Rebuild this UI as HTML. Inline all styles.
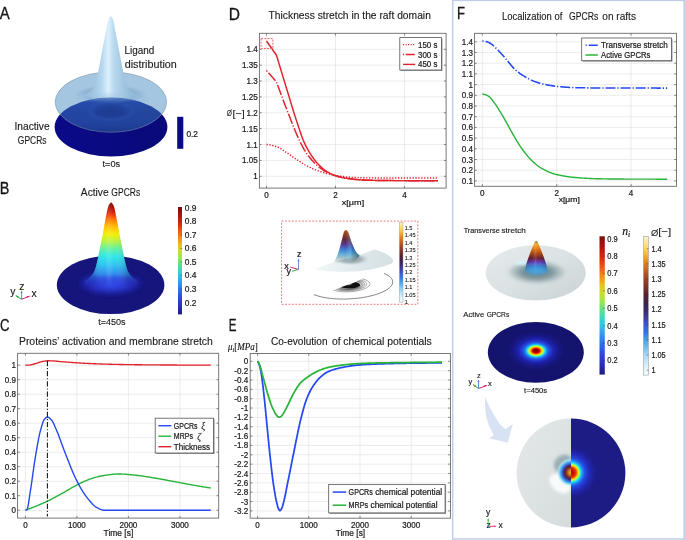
<!DOCTYPE html>
<html lang="en"><head><meta charset="utf-8"><title>Figure</title>
<style>html,body{margin:0;padding:0;background:#fff}body{width:685px;height:540px;overflow:hidden}svg{display:block}text{font-family:"Liberation Sans", "DejaVu Sans", sans-serif;fill:#1a1a1a}text.s{font-family:"Liberation Serif", "DejaVu Serif", serif}</style></head>
<body>
<svg width="685" height="540" viewBox="0 0 685 540">
<defs>
<linearGradient id="gA1" x1="0" y1="0" x2="1" y2="0" ><stop offset="0.000" stop-color="#0a0a88"/><stop offset="1.000" stop-color="#0a0a7a"/></linearGradient>
<linearGradient id="gA5" x1="0" y1="98" x2="0" y2="132" gradientUnits="userSpaceOnUse" ><stop offset="0.000" stop-color="#2c5ccc" stop-opacity="0.35"/><stop offset="0.500" stop-color="#2c5ccc" stop-opacity="0.0"/><stop offset="1.000" stop-color="#06105a" stop-opacity="0.25"/></linearGradient>
<radialGradient id="gA2" cx="50%" cy="50%" r="50%" ><stop offset="0.000" stop-color="#04104c" stop-opacity="0.2"/><stop offset="0.500" stop-color="#04104c" stop-opacity="0.12"/><stop offset="0.800" stop-color="#3a6ad0" stop-opacity="0.14"/><stop offset="1.000" stop-color="#3a6ad0" stop-opacity="0"/></radialGradient>
<linearGradient id="gA3" x1="92" y1="0" x2="130" y2="0" gradientUnits="userSpaceOnUse" ><stop offset="0.000" stop-color="#9fc4e0"/><stop offset="0.250" stop-color="#b4d6ee"/><stop offset="0.430" stop-color="#dcf0fc"/><stop offset="0.580" stop-color="#b8d8ee"/><stop offset="0.800" stop-color="#a2c8e4"/><stop offset="1.000" stop-color="#94bbd9"/></linearGradient>
<filter id="bl1" x="-20%" y="-20%" width="140%" height="140%"><feGaussianBlur stdDeviation="1.6"/></filter>
<linearGradient id="mA" x1="0" y1="84" x2="0" y2="102" gradientUnits="userSpaceOnUse" ><stop offset="0.000" stop-color="#fff"/><stop offset="0.400" stop-color="#fff"/><stop offset="1.000" stop-color="#000"/></linearGradient>
<mask id="mkA" maskUnits="userSpaceOnUse" x="50" y="0" width="125" height="125"><rect x="50" y="0" width="125" height="125" fill="url(#mA)"/></mask>
<radialGradient id="gA6" cx="50%" cy="50%" r="50%" ><stop offset="0.000" stop-color="#4a80b4" stop-opacity="0.0"/><stop offset="0.450" stop-color="#4a80b4" stop-opacity="0.0"/><stop offset="0.700" stop-color="#4a80b4" stop-opacity="0.28"/><stop offset="1.000" stop-color="#4a80b4" stop-opacity="0"/></radialGradient>
<radialGradient id="gB1" cx="50%" cy="50%" r="50%" ><stop offset="0.000" stop-color="#3358f2"/><stop offset="0.400" stop-color="#2e40dc"/><stop offset="0.750" stop-color="#2328b4"/><stop offset="1.000" stop-color="#1b1b90"/></radialGradient>
<filter id="bl2" x="-30%" y="-50%" width="160%" height="200%"><feGaussianBlur stdDeviation="2.2"/></filter>
<linearGradient id="gB2" x1="0" y1="202.3" x2="0" y2="292" gradientUnits="userSpaceOnUse" ><stop offset="0.000" stop-color="#7a0000"/><stop offset="0.036" stop-color="#920000"/><stop offset="0.114" stop-color="#e41c00"/><stop offset="0.197" stop-color="#ff7a00"/><stop offset="0.275" stop-color="#ffc000"/><stop offset="0.356" stop-color="#f2f000"/><stop offset="0.437" stop-color="#b4f344"/><stop offset="0.518" stop-color="#62f0a2"/><stop offset="0.600" stop-color="#30e8e6"/><stop offset="0.703" stop-color="#2ec2f2"/><stop offset="0.786" stop-color="#2f92f0"/><stop offset="0.868" stop-color="#2f55e6"/><stop offset="0.951" stop-color="#272ac6"/><stop offset="1.000" stop-color="#1c1c98"/></linearGradient>
<linearGradient id="mB" x1="0" y1="268" x2="0" y2="287" gradientUnits="userSpaceOnUse" ><stop offset="0.000" stop-color="#fff"/><stop offset="0.350" stop-color="#fff"/><stop offset="1.000" stop-color="#000"/></linearGradient>
<mask id="mkB" maskUnits="userSpaceOnUse" x="60" y="195" width="110" height="110"><rect x="60" y="195" width="110" height="110" fill="url(#mB)"/></mask>
<linearGradient id="gB3" x1="94" y1="0" x2="128" y2="0" gradientUnits="userSpaceOnUse" ><stop offset="0.000" stop-color="#000" stop-opacity="0.14"/><stop offset="0.300" stop-color="#fff" stop-opacity="0.0"/><stop offset="0.440" stop-color="#fff" stop-opacity="0.13"/><stop offset="0.600" stop-color="#fff" stop-opacity="0.0"/><stop offset="1.000" stop-color="#000" stop-opacity="0.2"/></linearGradient>
<linearGradient id="gJet" x1="0" y1="1" x2="0" y2="0" ><stop offset="0.000" stop-color="#1c1c80"/><stop offset="0.050" stop-color="#2828a8"/><stop offset="0.110" stop-color="#3038d0"/><stop offset="0.169" stop-color="#3050e0"/><stop offset="0.229" stop-color="#3070e8"/><stop offset="0.289" stop-color="#3098f0"/><stop offset="0.349" stop-color="#30c0e8"/><stop offset="0.408" stop-color="#38d8c0"/><stop offset="0.468" stop-color="#60e088"/><stop offset="0.528" stop-color="#98e850"/><stop offset="0.588" stop-color="#c8e030"/><stop offset="0.647" stop-color="#e8c020"/><stop offset="0.707" stop-color="#f09018"/><stop offset="0.767" stop-color="#f06010"/><stop offset="0.837" stop-color="#dc2c10"/><stop offset="0.916" stop-color="#b01410"/><stop offset="1.000" stop-color="#7c0c0c"/></linearGradient>
<linearGradient id="gD1" x1="314" y1="0" x2="394" y2="0" gradientUnits="userSpaceOnUse" ><stop offset="0.000" stop-color="#f4f8f9"/><stop offset="0.450" stop-color="#e2ebee"/><stop offset="1.000" stop-color="#d3dfe3"/></linearGradient>
<radialGradient id="gD2" cx="50%" cy="50%" r="50%" ><stop offset="0.000" stop-color="#86969b" stop-opacity="1"/><stop offset="0.550" stop-color="#97a8ad" stop-opacity="0.8"/><stop offset="1.000" stop-color="#c8d4d8" stop-opacity="0"/></radialGradient>
<linearGradient id="gD3" x1="0" y1="230.1" x2="0" y2="263.5" gradientUnits="userSpaceOnUse" ><stop offset="0.000" stop-color="#b25618"/><stop offset="0.102" stop-color="#94401a"/><stop offset="0.284" stop-color="#62263a"/><stop offset="0.422" stop-color="#54348a"/><stop offset="0.554" stop-color="#3a6ec8"/><stop offset="0.674" stop-color="#4c9cda"/><stop offset="0.793" stop-color="#86b8cc"/><stop offset="0.910" stop-color="#9caeb3"/><stop offset="1.000" stop-color="#b0bcc0"/></linearGradient>
<linearGradient id="mD" x1="0" y1="250" x2="0" y2="264" gradientUnits="userSpaceOnUse" ><stop offset="0.000" stop-color="#fff"/><stop offset="0.500" stop-color="#fff"/><stop offset="1.000" stop-color="#000"/></linearGradient>
<mask id="mkD" maskUnits="userSpaceOnUse" x="320" y="225" width="60" height="45"><rect x="320" y="225" width="60" height="45" fill="url(#mD)"/></mask>
<linearGradient id="gD4" x1="336" y1="0" x2="360" y2="0" gradientUnits="userSpaceOnUse" ><stop offset="0.000" stop-color="#fff" stop-opacity="0.12"/><stop offset="0.400" stop-color="#fff" stop-opacity="0.0"/><stop offset="0.620" stop-color="#7ad0ff" stop-opacity="0.3"/><stop offset="0.740" stop-color="#000" stop-opacity="0.12"/><stop offset="1.000" stop-color="#000" stop-opacity="0.42"/></linearGradient>
<linearGradient id="gTh" x1="0" y1="1" x2="0" y2="0" ><stop offset="0.000" stop-color="#f2fdff"/><stop offset="0.030" stop-color="#e8faff"/><stop offset="0.089" stop-color="#c8ecff"/><stop offset="0.148" stop-color="#a0d8fc"/><stop offset="0.197" stop-color="#70c0f8"/><stop offset="0.256" stop-color="#40a0f0"/><stop offset="0.305" stop-color="#3078e8"/><stop offset="0.365" stop-color="#3858d0"/><stop offset="0.420" stop-color="#4038a0"/><stop offset="0.470" stop-color="#3c2870"/><stop offset="0.520" stop-color="#402048"/><stop offset="0.580" stop-color="#582030"/><stop offset="0.630" stop-color="#783028"/><stop offset="0.690" stop-color="#a04020"/><stop offset="0.740" stop-color="#c05818"/><stop offset="0.810" stop-color="#e88020"/><stop offset="0.858" stop-color="#f8a830"/><stop offset="0.917" stop-color="#ffd860"/><stop offset="0.985" stop-color="#fff0b0"/><stop offset="1.000" stop-color="#fff6c8"/></linearGradient>
<linearGradient id="gF1" x1="0" y1="0" x2="1" y2="1" ><stop offset="0.000" stop-color="#e6ebec"/><stop offset="0.500" stop-color="#dbe2e3"/><stop offset="1.000" stop-color="#c9d1d3"/></linearGradient>
<filter id="bl3" x="-30%" y="-50%" width="160%" height="200%"><feGaussianBlur stdDeviation="1.8"/></filter>
<filter id="bl4" x="-30%" y="-50%" width="160%" height="200%"><feGaussianBlur stdDeviation="1.3"/></filter>
<radialGradient id="gF2" cx="50%" cy="50%" r="50%" ><stop offset="0.000" stop-color="#6a838a" stop-opacity="1"/><stop offset="0.500" stop-color="#7a9399" stop-opacity="0.95"/><stop offset="0.800" stop-color="#9db0b5" stop-opacity="0.55"/><stop offset="1.000" stop-color="#b9c6c9" stop-opacity="0"/></radialGradient>
<linearGradient id="gF3" x1="0" y1="240.9" x2="0" y2="274.2" gradientUnits="userSpaceOnUse" ><stop offset="0.000" stop-color="#6a5a30"/><stop offset="0.018" stop-color="#8a7434"/><stop offset="0.093" stop-color="#f0b030"/><stop offset="0.198" stop-color="#f08818"/><stop offset="0.306" stop-color="#d06010"/><stop offset="0.414" stop-color="#a04018"/><stop offset="0.520" stop-color="#702030"/><stop offset="0.613" stop-color="#6a36a0"/><stop offset="0.679" stop-color="#5050d0"/><stop offset="0.760" stop-color="#3078e0"/><stop offset="0.841" stop-color="#389ee6"/><stop offset="0.919" stop-color="#50a8d8"/><stop offset="1.000" stop-color="#789aa0"/></linearGradient>
<linearGradient id="mF" x1="0" y1="258" x2="0" y2="275" gradientUnits="userSpaceOnUse" ><stop offset="0.000" stop-color="#fff"/><stop offset="0.250" stop-color="#fff"/><stop offset="1.000" stop-color="#000"/></linearGradient>
<mask id="mkF" maskUnits="userSpaceOnUse" x="510" y="235" width="55" height="50"><rect x="510" y="235" width="55" height="50" fill="url(#mF)"/></mask>
<linearGradient id="gF4" x1="525" y1="0" x2="548" y2="0" gradientUnits="userSpaceOnUse" ><stop offset="0.000" stop-color="#000" stop-opacity="0.3"/><stop offset="0.300" stop-color="#000" stop-opacity="0.05"/><stop offset="0.450" stop-color="#fff" stop-opacity="0.12"/><stop offset="0.650" stop-color="#000" stop-opacity="0.0"/><stop offset="1.000" stop-color="#000" stop-opacity="0.3"/></linearGradient>
<radialGradient id="gF5" cx="50%" cy="50%" r="50%" ><stop offset="0.000" stop-color="#7f0000"/><stop offset="0.080" stop-color="#a00000"/><stop offset="0.135" stop-color="#ee1c00"/><stop offset="0.180" stop-color="#ff9a00"/><stop offset="0.220" stop-color="#f4f000"/><stop offset="0.260" stop-color="#86f67a"/><stop offset="0.300" stop-color="#22e6ea"/><stop offset="0.360" stop-color="#1f8cf4"/><stop offset="0.450" stop-color="#2348e0"/><stop offset="0.600" stop-color="#1e22ac"/><stop offset="0.800" stop-color="#171782"/><stop offset="1.000" stop-color="#14146e"/></radialGradient>
<linearGradient id="gJet2" x1="0" y1="1" x2="0" y2="0" ><stop offset="0.000" stop-color="#1c1c80"/><stop offset="0.050" stop-color="#2828a8"/><stop offset="0.110" stop-color="#3038d0"/><stop offset="0.169" stop-color="#3050e0"/><stop offset="0.229" stop-color="#3070e8"/><stop offset="0.289" stop-color="#3098f0"/><stop offset="0.349" stop-color="#30c0e8"/><stop offset="0.408" stop-color="#38d8c0"/><stop offset="0.468" stop-color="#60e088"/><stop offset="0.528" stop-color="#98e850"/><stop offset="0.588" stop-color="#c8e030"/><stop offset="0.647" stop-color="#e8c020"/><stop offset="0.707" stop-color="#f09018"/><stop offset="0.767" stop-color="#f06010"/><stop offset="0.837" stop-color="#dc2c10"/><stop offset="0.916" stop-color="#b01410"/><stop offset="1.000" stop-color="#7c0c0c"/></linearGradient>
<linearGradient id="gF6" x1="0" y1="0" x2="1" y2="1" ><stop offset="0.000" stop-color="#e4e8e9"/><stop offset="1.000" stop-color="#d6dcdd"/></linearGradient>
<radialGradient id="gF7" cx="50%" cy="50%" r="50%" ><stop offset="0.000" stop-color="#f4a838"/><stop offset="0.160" stop-color="#e08028"/><stop offset="0.280" stop-color="#a04820"/><stop offset="0.400" stop-color="#5e2234"/><stop offset="0.500" stop-color="#4a2a78"/><stop offset="0.600" stop-color="#3a60d0"/><stop offset="0.720" stop-color="#48a8ec"/><stop offset="0.850" stop-color="#a0e0f8" stop-opacity="0.8"/><stop offset="1.000" stop-color="#d8f6ff" stop-opacity="0"/></radialGradient>
<radialGradient id="gF8" cx="50%" cy="50%" r="50%" ><stop offset="0.000" stop-color="#a00000"/><stop offset="0.100" stop-color="#d01000"/><stop offset="0.180" stop-color="#f03000"/><stop offset="0.235" stop-color="#ff9a00"/><stop offset="0.270" stop-color="#f4f000"/><stop offset="0.310" stop-color="#86f67a"/><stop offset="0.350" stop-color="#22e6ea"/><stop offset="0.420" stop-color="#1f8cf4"/><stop offset="0.520" stop-color="#2348e0"/><stop offset="0.680" stop-color="#2228b4"/><stop offset="0.850" stop-color="#1e1e92"/><stop offset="1.000" stop-color="#1c1c84" stop-opacity="0"/></radialGradient>
</defs>
<rect width="685" height="540" fill="#fff"/>
<rect x="452.7" y="0.4" width="231.5" height="538.6" fill="none" stroke="#bfcde9" stroke-width="1.5"/>
<text x="-0.33" y="19.40" font-size="16.1" textLength="9.96" lengthAdjust="spacingAndGlyphs" fill="#000" stroke="#000" stroke-width="0.27">A</text>
<text x="-0.14" y="194.40" font-size="16.1" textLength="9.66" lengthAdjust="spacingAndGlyphs" fill="#000" stroke="#000" stroke-width="0.27">B</text>
<text x="0.03" y="331.00" font-size="16.1" textLength="9.52" lengthAdjust="spacingAndGlyphs" fill="#000" stroke="#000" stroke-width="0.27">C</text>
<text x="228.73" y="19.60" font-size="16.1" textLength="11.22" lengthAdjust="spacingAndGlyphs" fill="#000" stroke="#000" stroke-width="0.27">D</text>
<text x="228.85" y="331.40" font-size="16.1" textLength="7.75" lengthAdjust="spacingAndGlyphs" fill="#000" stroke="#000" stroke-width="0.27">E</text>
<text x="457.03" y="19.10" font-size="16.1" textLength="8.00" lengthAdjust="spacingAndGlyphs" fill="#000" stroke="#000" stroke-width="0.27">F</text>
<rect x="17.60" y="353.30" width="201.10" height="164.80" fill="#fff"/>
<path d="M25.40 353.30V518.10M76.90 353.30V518.10M128.40 353.30V518.10M179.90 353.30V518.10M17.60 510.20H218.70M17.60 495.70H218.70M17.60 481.20H218.70M17.60 466.70H218.70M17.60 452.20H218.70M17.60 437.70H218.70M17.60 423.20H218.70M17.60 408.70H218.70M17.60 394.20H218.70M17.60 379.70H218.70M17.60 365.20H218.70" stroke="#e4e4e4" stroke-width="0.7" fill="none"/>
<path d="M25.40 518.10v-2.2M25.40 353.30v2.2M76.90 518.10v-2.2M76.90 353.30v2.2M128.40 518.10v-2.2M128.40 353.30v2.2M179.90 518.10v-2.2M179.90 353.30v2.2M17.60 510.20h2.2M218.70 510.20h-2.2M17.60 495.70h2.2M218.70 495.70h-2.2M17.60 481.20h2.2M218.70 481.20h-2.2M17.60 466.70h2.2M218.70 466.70h-2.2M17.60 452.20h2.2M218.70 452.20h-2.2M17.60 437.70h2.2M218.70 437.70h-2.2M17.60 423.20h2.2M218.70 423.20h-2.2M17.60 408.70h2.2M218.70 408.70h-2.2M17.60 394.20h2.2M218.70 394.20h-2.2M17.60 379.70h2.2M218.70 379.70h-2.2M17.60 365.20h2.2M218.70 365.20h-2.2" stroke="#555" stroke-width="0.7" fill="none"/>
<rect x="17.60" y="353.30" width="201.10" height="164.80" fill="none" stroke="#6a6a6a" stroke-width="0.9"/>
<text x="18.95" y="344.80" font-size="10.1" textLength="193.93" lengthAdjust="spacingAndGlyphs" stroke="#1a1a1a" stroke-width="0.12">Proteins’ activation and membrane stretch</text>
<text x="16.00" y="513.22" font-size="8.5" text-anchor="end" textLength="4.49" lengthAdjust="spacingAndGlyphs" stroke="#1a1a1a" stroke-width="0.22">0</text>
<text x="16.00" y="498.72" font-size="8.5" text-anchor="end" textLength="11.23" lengthAdjust="spacingAndGlyphs" stroke="#1a1a1a" stroke-width="0.22">0.1</text>
<text x="16.00" y="484.22" font-size="8.5" text-anchor="end" textLength="11.23" lengthAdjust="spacingAndGlyphs" stroke="#1a1a1a" stroke-width="0.22">0.2</text>
<text x="16.00" y="469.72" font-size="8.5" text-anchor="end" textLength="11.23" lengthAdjust="spacingAndGlyphs" stroke="#1a1a1a" stroke-width="0.22">0.3</text>
<text x="16.00" y="455.22" font-size="8.5" text-anchor="end" textLength="11.23" lengthAdjust="spacingAndGlyphs" stroke="#1a1a1a" stroke-width="0.22">0.4</text>
<text x="16.00" y="440.72" font-size="8.5" text-anchor="end" textLength="11.23" lengthAdjust="spacingAndGlyphs" stroke="#1a1a1a" stroke-width="0.22">0.5</text>
<text x="16.00" y="426.22" font-size="8.5" text-anchor="end" textLength="11.23" lengthAdjust="spacingAndGlyphs" stroke="#1a1a1a" stroke-width="0.22">0.6</text>
<text x="16.00" y="411.72" font-size="8.5" text-anchor="end" textLength="11.23" lengthAdjust="spacingAndGlyphs" stroke="#1a1a1a" stroke-width="0.22">0.7</text>
<text x="16.00" y="397.22" font-size="8.5" text-anchor="end" textLength="11.23" lengthAdjust="spacingAndGlyphs" stroke="#1a1a1a" stroke-width="0.22">0.8</text>
<text x="16.00" y="382.72" font-size="8.5" text-anchor="end" textLength="11.23" lengthAdjust="spacingAndGlyphs" stroke="#1a1a1a" stroke-width="0.22">0.9</text>
<text x="16.00" y="368.22" font-size="8.5" text-anchor="end" textLength="4.49" lengthAdjust="spacingAndGlyphs" stroke="#1a1a1a" stroke-width="0.22">1</text>
<text x="25.40" y="528.32" font-size="8.5" text-anchor="middle" textLength="4.49" lengthAdjust="spacingAndGlyphs" stroke="#1a1a1a" stroke-width="0.22">0</text>
<text x="76.90" y="528.32" font-size="8.5" text-anchor="middle" textLength="17.96" lengthAdjust="spacingAndGlyphs" stroke="#1a1a1a" stroke-width="0.22">1000</text>
<text x="128.40" y="528.32" font-size="8.5" text-anchor="middle" textLength="17.96" lengthAdjust="spacingAndGlyphs" stroke="#1a1a1a" stroke-width="0.22">2000</text>
<text x="179.90" y="528.32" font-size="8.5" text-anchor="middle" textLength="17.96" lengthAdjust="spacingAndGlyphs" stroke="#1a1a1a" stroke-width="0.22">3000</text>
<text x="103.61" y="535.50" font-size="8.5" textLength="29.68" lengthAdjust="spacingAndGlyphs" stroke="#1a1a1a" stroke-width="0.22">Time [s]</text>
<path d="M25.40 365.20 L26.18 365.19 L26.95 365.18 L27.73 365.16 L28.50 365.13 L29.28 365.06 L30.05 364.93 L30.83 364.78 L31.61 364.61 L32.38 364.44 L33.16 364.23 L33.93 364.00 L34.71 363.76 L35.48 363.52 L36.26 363.29 L37.04 363.04 L37.81 362.78 L38.59 362.52 L39.36 362.27 L40.14 362.05 L40.91 361.85 L41.69 361.67 L42.47 361.50 L43.24 361.34 L44.02 361.20 L44.79 361.09 L45.57 361.00 L46.34 360.91 L47.12 360.84 L47.90 360.79 L48.67 360.78 L49.45 360.79 L50.22 360.80 L51.00 360.83 L51.77 360.86 L52.55 360.90 L53.33 360.95 L54.10 361.01 L54.88 361.08 L55.65 361.16 L56.43 361.22 L57.21 361.29 L57.98 361.35 L58.76 361.42 L59.53 361.49 L60.31 361.56 L61.08 361.62 L61.86 361.69 L62.64 361.76 L63.41 361.82 L64.19 361.89 L64.96 361.95 L65.74 362.02 L66.51 362.08 L67.29 362.14 L68.07 362.19 L68.84 362.25 L69.62 362.31 L70.39 362.37 L71.17 362.42 L71.94 362.48 L72.72 362.53 L73.50 362.58 L74.27 362.64 L75.05 362.69 L75.82 362.74 L76.60 362.79 L77.37 362.84 L78.15 362.89 L78.93 362.93 L79.70 362.98 L80.48 363.03 L81.25 363.07 L82.03 363.12 L82.80 363.17 L83.58 363.21 L84.36 363.25 L85.13 363.30 L85.91 363.34 L86.68 363.38 L87.46 363.42 L88.23 363.46 L89.01 363.50 L89.79 363.53 L90.56 363.57 L91.34 363.60 L92.11 363.64 L92.89 363.67 L93.66 363.71 L94.44 363.74 L95.22 363.77 L95.99 363.80 L96.77 363.84 L97.54 363.87 L98.32 363.89 L99.09 363.92 L99.87 363.95 L100.65 363.98 L101.42 364.00 L102.20 364.03 L102.97 364.05 L103.75 364.07 L104.52 364.09 L105.30 364.12 L106.08 364.14 L106.85 364.16 L107.63 364.18 L108.40 364.20 L109.18 364.22 L109.95 364.24 L110.73 364.26 L111.51 364.28 L112.28 364.30 L113.06 364.32 L113.83 364.34 L114.61 364.36 L115.38 364.37 L116.16 364.39 L116.94 364.41 L117.71 364.42 L118.49 364.44 L119.26 364.46 L120.04 364.47 L120.82 364.49 L121.59 364.50 L122.37 364.52 L123.14 364.53 L123.92 364.55 L124.69 364.56 L125.47 364.57 L126.25 364.59 L127.02 364.60 L127.80 364.61 L128.57 364.62 L129.35 364.63 L130.12 364.65 L130.90 364.66 L131.68 364.67 L132.45 364.68 L133.23 364.69 L134.00 364.70 L134.78 364.71 L135.55 364.72 L136.33 364.73 L137.11 364.74 L137.88 364.75 L138.66 364.76 L139.43 364.77 L140.21 364.78 L140.98 364.79 L141.76 364.79 L142.54 364.80 L143.31 364.81 L144.09 364.82 L144.86 364.83 L145.64 364.84 L146.41 364.84 L147.19 364.85 L147.97 364.86 L148.74 364.87 L149.52 364.87 L150.29 364.88 L151.07 364.89 L151.84 364.89 L152.62 364.90 L153.40 364.90 L154.17 364.91 L154.95 364.92 L155.72 364.92 L156.50 364.93 L157.27 364.93 L158.05 364.94 L158.83 364.94 L159.60 364.95 L160.38 364.95 L161.15 364.96 L161.93 364.96 L162.70 364.97 L163.48 364.97 L164.26 364.98 L165.03 364.98 L165.81 364.99 L166.58 364.99 L167.36 365.00 L168.13 365.00 L168.91 365.01 L169.69 365.01 L170.46 365.01 L171.24 365.02 L172.01 365.02 L172.79 365.03 L173.56 365.03 L174.34 365.03 L175.12 365.04 L175.89 365.04 L176.67 365.04 L177.44 365.05 L178.22 365.05 L178.99 365.05 L179.77 365.05 L180.55 365.06 L181.32 365.06 L182.10 365.06 L182.87 365.06 L183.65 365.07 L184.43 365.07 L185.20 365.07 L185.98 365.07 L186.75 365.08 L187.53 365.08 L188.30 365.08 L189.08 365.08 L189.86 365.09 L190.63 365.09 L191.41 365.09 L192.18 365.09 L192.96 365.10 L193.73 365.10 L194.51 365.10 L195.29 365.10 L196.06 365.10 L196.84 365.11 L197.61 365.11 L198.39 365.11 L199.16 365.11 L199.94 365.11 L200.72 365.11 L201.49 365.12 L202.27 365.12 L203.04 365.12 L203.82 365.12 L204.59 365.12 L205.37 365.12 L206.15 365.12 L206.92 365.12 L207.70 365.13 L208.47 365.13 L209.25 365.13 L210.02 365.13 L210.80 365.13" fill="none" stroke="#e0212b" stroke-width="1.35" stroke-linejoin="round"/>
<path d="M25.40 510.20 L26.33 509.86 L27.26 509.53 L28.19 509.18 L29.13 508.84 L30.06 508.49 L30.99 508.13 L31.92 507.78 L32.85 507.42 L33.78 507.05 L34.72 506.68 L35.65 506.31 L36.58 505.93 L37.51 505.54 L38.44 505.16 L39.37 504.76 L40.31 504.36 L41.24 503.96 L42.17 503.55 L43.10 503.14 L44.03 502.72 L44.96 502.30 L45.90 501.87 L46.83 501.43 L47.76 500.99 L48.69 500.54 L49.62 500.09 L50.55 499.63 L51.49 499.16 L52.42 498.69 L53.35 498.21 L54.28 497.73 L55.21 497.24 L56.14 496.74 L57.08 496.24 L58.01 495.74 L58.94 495.22 L59.87 494.71 L60.80 494.18 L61.73 493.65 L62.67 493.12 L63.60 492.58 L64.53 492.04 L65.46 491.49 L66.39 490.94 L67.32 490.40 L68.26 489.85 L69.19 489.30 L70.12 488.76 L71.05 488.22 L71.98 487.68 L72.91 487.15 L73.85 486.63 L74.78 486.11 L75.71 485.60 L76.64 485.10 L77.57 484.61 L78.50 484.13 L79.44 483.66 L80.37 483.20 L81.30 482.75 L82.23 482.31 L83.16 481.89 L84.09 481.47 L85.03 481.06 L85.96 480.67 L86.89 480.29 L87.82 479.92 L88.75 479.56 L89.68 479.21 L90.62 478.88 L91.55 478.55 L92.48 478.24 L93.41 477.95 L94.34 477.66 L95.27 477.39 L96.21 477.14 L97.14 476.89 L98.07 476.67 L99.00 476.45 L99.93 476.24 L100.86 476.05 L101.80 475.87 L102.73 475.69 L103.66 475.53 L104.59 475.37 L105.52 475.22 L106.45 475.08 L107.39 474.95 L108.32 474.82 L109.25 474.70 L110.18 474.59 L111.11 474.48 L112.04 474.38 L112.98 474.29 L113.91 474.21 L114.84 474.15 L115.77 474.09 L116.70 474.05 L117.63 474.02 L118.57 474.01 L119.50 474.01 L120.43 474.02 L121.36 474.04 L122.29 474.08 L123.22 474.12 L124.16 474.17 L125.09 474.24 L126.02 474.30 L126.95 474.38 L127.88 474.46 L128.81 474.54 L129.75 474.62 L130.68 474.71 L131.61 474.81 L132.54 474.90 L133.47 475.00 L134.40 475.10 L135.34 475.21 L136.27 475.32 L137.20 475.43 L138.13 475.55 L139.06 475.66 L139.99 475.79 L140.93 475.91 L141.86 476.04 L142.79 476.17 L143.72 476.30 L144.65 476.43 L145.58 476.57 L146.52 476.71 L147.45 476.85 L148.38 477.00 L149.31 477.15 L150.24 477.29 L151.17 477.44 L152.11 477.60 L153.04 477.75 L153.97 477.91 L154.90 478.06 L155.83 478.22 L156.76 478.38 L157.70 478.55 L158.63 478.71 L159.56 478.87 L160.49 479.04 L161.42 479.21 L162.35 479.37 L163.29 479.54 L164.22 479.71 L165.15 479.88 L166.08 480.05 L167.01 480.23 L167.94 480.40 L168.88 480.57 L169.81 480.75 L170.74 480.92 L171.67 481.10 L172.60 481.27 L173.53 481.45 L174.47 481.62 L175.40 481.80 L176.33 481.97 L177.26 482.15 L178.19 482.33 L179.12 482.50 L180.06 482.68 L180.99 482.86 L181.92 483.03 L182.85 483.21 L183.78 483.38 L184.71 483.56 L185.65 483.73 L186.58 483.90 L187.51 484.08 L188.44 484.25 L189.37 484.42 L190.30 484.59 L191.24 484.76 L192.17 484.93 L193.10 485.10 L194.03 485.26 L194.96 485.43 L195.89 485.59 L196.83 485.76 L197.76 485.92 L198.69 486.08 L199.62 486.24 L200.55 486.40 L201.48 486.55 L202.42 486.71 L203.35 486.86 L204.28 487.01 L205.21 487.16 L206.14 487.31 L207.07 487.45 L208.01 487.60 L208.94 487.74 L209.87 487.88 L210.80 488.01" fill="none" stroke="#28b43a" stroke-width="1.4" stroke-linejoin="round"/>
<path d="M25.40 510.20 L25.79 510.15 L26.19 510.03 L26.58 509.84 L26.97 509.60 L27.36 508.91 L27.76 507.53 L28.15 505.61 L28.54 503.28 L28.94 500.68 L29.33 497.94 L29.72 495.20 L30.11 492.59 L30.51 490.19 L30.90 487.69 L31.29 485.08 L31.69 482.37 L32.08 479.60 L32.47 476.78 L32.86 473.94 L33.26 471.11 L33.65 468.30 L34.04 465.55 L34.44 462.87 L34.83 460.30 L35.22 457.85 L35.61 455.53 L36.01 453.22 L36.40 450.91 L36.79 448.63 L37.19 446.38 L37.58 444.18 L37.97 442.03 L38.36 439.95 L38.76 437.96 L39.15 436.06 L39.54 434.26 L39.94 432.59 L40.33 431.04 L40.72 429.61 L41.11 428.19 L41.51 426.80 L41.90 425.44 L42.29 424.15 L42.69 422.94 L43.08 421.85 L43.47 420.88 L43.86 420.07 L44.26 419.44 L44.65 418.99 L45.04 418.60 L45.44 418.23 L45.83 417.89 L46.22 417.61 L46.61 417.37 L47.01 417.21 L47.40 417.12 L47.79 417.12 L48.19 417.21 L48.58 417.37 L48.97 417.60 L49.36 417.88 L49.76 418.22 L50.15 418.59 L50.54 419.00 L50.94 419.42 L51.33 419.86 L51.72 420.30 L52.11 420.80 L52.51 421.41 L52.90 422.11 L53.29 422.88 L53.69 423.71 L54.08 424.58 L54.47 425.48 L54.86 426.40 L55.26 427.31 L55.65 428.20 L56.04 429.09 L56.44 430.00 L56.83 430.93 L57.22 431.88 L57.61 432.86 L58.01 433.85 L58.40 434.85 L58.79 435.87 L59.19 436.91 L59.58 437.95 L59.97 439.00 L60.36 440.06 L60.76 441.13 L61.15 442.20 L61.54 443.27 L61.93 444.35 L62.33 445.42 L62.72 446.49 L63.11 447.56 L63.51 448.62 L63.90 449.67 L64.29 450.72 L64.68 451.75 L65.08 452.77 L65.47 453.78 L65.86 454.77 L66.26 455.76 L66.65 456.75 L67.04 457.74 L67.43 458.74 L67.83 459.74 L68.22 460.74 L68.61 461.75 L69.01 462.75 L69.40 463.75 L69.79 464.74 L70.18 465.73 L70.58 466.72 L70.97 467.70 L71.36 468.67 L71.76 469.63 L72.15 470.59 L72.54 471.53 L72.93 472.46 L73.33 473.37 L73.72 474.28 L74.11 475.16 L74.51 476.03 L74.90 476.88 L75.29 477.71 L75.68 478.53 L76.08 479.32 L76.47 480.10 L76.86 480.87 L77.26 481.63 L77.65 482.39 L78.04 483.14 L78.43 483.88 L78.83 484.62 L79.22 485.34 L79.61 486.06 L80.01 486.77 L80.40 487.47 L80.79 488.16 L81.18 488.84 L81.58 489.51 L81.97 490.16 L82.36 490.81 L82.76 491.45 L83.15 492.07 L83.54 492.68 L83.93 493.28 L84.33 493.87 L84.72 494.44 L85.11 495.00 L85.51 495.55 L85.90 496.08 L86.29 496.59 L86.68 497.10 L87.08 497.61 L87.47 498.12 L87.86 498.62 L88.26 499.12 L88.65 499.62 L89.04 500.11 L89.43 500.59 L89.83 501.07 L90.22 501.54 L90.61 502.00 L91.01 502.45 L91.40 502.89 L91.79 503.32 L92.18 503.74 L92.58 504.14 L92.97 504.53 L93.36 504.91 L93.76 505.27 L94.15 505.62 L94.54 505.95 L94.93 506.26 L95.33 506.56 L95.72 506.83 L96.11 507.09 L96.51 507.32 L96.90 507.54 L97.29 507.76 L97.68 507.98 L98.08 508.19 L98.47 508.39 L98.86 508.59 L99.26 508.78 L99.65 508.97 L100.04 509.14 L100.43 509.30 L100.83 509.46 L101.22 509.60 L101.61 509.74 L102.01 509.86 L102.40 509.96 L102.79 510.06 L103.18 510.14 L103.58 510.20 L210.80 510.20" fill="none" stroke="#2549f5" stroke-width="1.4" stroke-linejoin="round"/>
<path d="M47.4 360.85V516.4" stroke="#111" stroke-width="1.05" stroke-dasharray="5.3 1.9 1.1 1.9" fill="none"/>
<rect x="156.20" y="419.20" width="58.40" height="34.80" fill="#9a9a9a"/>
<rect x="155.20" y="418.20" width="58.40" height="34.80" fill="#fff" stroke="#555" stroke-width="0.8"/>
<path d="M158.4 425.70H171.3" stroke="#2549f5" stroke-width="1.4"/>
<text x="173.80" y="428.72" font-size="8.5" textLength="23.70" lengthAdjust="spacingAndGlyphs" stroke="#1a1a1a" stroke-width="0.22">GPCRs</text>
<path d="M158.4 436.20H171.3" stroke="#28b43a" stroke-width="1.4"/>
<text x="173.80" y="439.22" font-size="8.5" textLength="19.10" lengthAdjust="spacingAndGlyphs" stroke="#1a1a1a" stroke-width="0.22">MRPs</text>
<path d="M158.4 446.70H171.3" stroke="#e0212b" stroke-width="1.4"/>
<text x="173.80" y="449.72" font-size="8.5" textLength="36.20" lengthAdjust="spacingAndGlyphs" stroke="#1a1a1a" stroke-width="0.22">Thickness</text>
<text x="201.20" y="429.24" font-size="9.4" class="s" font-style="italic" stroke="#1a1a1a" stroke-width="0.1">ξ</text>
<text x="197.20" y="439.74" font-size="9.4" class="s" font-style="italic" stroke="#1a1a1a" stroke-width="0.1">ζ</text>
<rect x="250.20" y="353.50" width="200.20" height="164.70" fill="#fff"/>
<path d="M257.60 353.50V518.20M308.80 353.50V518.20M360.00 353.50V518.20M411.20 353.50V518.20M250.20 361.30H450.40M250.20 370.65H450.40M250.20 380.00H450.40M250.20 389.35H450.40M250.20 398.70H450.40M250.20 408.05H450.40M250.20 417.40H450.40M250.20 426.75H450.40M250.20 436.10H450.40M250.20 445.45H450.40M250.20 454.80H450.40M250.20 464.15H450.40M250.20 473.50H450.40M250.20 482.85H450.40M250.20 492.20H450.40M250.20 501.55H450.40M250.20 510.90H450.40" stroke="#e4e4e4" stroke-width="0.7" fill="none"/>
<path d="M257.60 518.20v-2.2M257.60 353.50v2.2M308.80 518.20v-2.2M308.80 353.50v2.2M360.00 518.20v-2.2M360.00 353.50v2.2M411.20 518.20v-2.2M411.20 353.50v2.2M250.20 361.30h2.2M450.40 361.30h-2.2M250.20 370.65h2.2M450.40 370.65h-2.2M250.20 380.00h2.2M450.40 380.00h-2.2M250.20 389.35h2.2M450.40 389.35h-2.2M250.20 398.70h2.2M450.40 398.70h-2.2M250.20 408.05h2.2M450.40 408.05h-2.2M250.20 417.40h2.2M450.40 417.40h-2.2M250.20 426.75h2.2M450.40 426.75h-2.2M250.20 436.10h2.2M450.40 436.10h-2.2M250.20 445.45h2.2M450.40 445.45h-2.2M250.20 454.80h2.2M450.40 454.80h-2.2M250.20 464.15h2.2M450.40 464.15h-2.2M250.20 473.50h2.2M450.40 473.50h-2.2M250.20 482.85h2.2M450.40 482.85h-2.2M250.20 492.20h2.2M450.40 492.20h-2.2M250.20 501.55h2.2M450.40 501.55h-2.2M250.20 510.90h2.2M450.40 510.90h-2.2" stroke="#555" stroke-width="0.7" fill="none"/>
<rect x="250.20" y="353.50" width="200.20" height="164.70" fill="none" stroke="#6a6a6a" stroke-width="0.9"/>
<text x="270.89" y="344.50" font-size="10.1" textLength="56.67" lengthAdjust="spacingAndGlyphs" stroke="#1a1a1a" stroke-width="0.12">Co-evolution</text>
<text x="332.07" y="344.50" font-size="10.1" textLength="8.62" lengthAdjust="spacingAndGlyphs" stroke="#1a1a1a" stroke-width="0.12">of</text>
<text x="343.36" y="344.50" font-size="10.1" textLength="88.42" lengthAdjust="spacingAndGlyphs" stroke="#1a1a1a" stroke-width="0.12">chemical potentials</text>
<text x="248.20" y="364.32" font-size="8.5" text-anchor="end" textLength="4.49" lengthAdjust="spacingAndGlyphs" stroke="#1a1a1a" stroke-width="0.22">0</text>
<text x="248.20" y="373.67" font-size="8.5" text-anchor="end" textLength="13.91" lengthAdjust="spacingAndGlyphs" stroke="#1a1a1a" stroke-width="0.22">-0.2</text>
<text x="248.20" y="383.02" font-size="8.5" text-anchor="end" textLength="13.91" lengthAdjust="spacingAndGlyphs" stroke="#1a1a1a" stroke-width="0.22">-0.4</text>
<text x="248.20" y="392.37" font-size="8.5" text-anchor="end" textLength="13.91" lengthAdjust="spacingAndGlyphs" stroke="#1a1a1a" stroke-width="0.22">-0.6</text>
<text x="248.20" y="401.72" font-size="8.5" text-anchor="end" textLength="13.91" lengthAdjust="spacingAndGlyphs" stroke="#1a1a1a" stroke-width="0.22">-0.8</text>
<text x="248.20" y="411.07" font-size="8.5" text-anchor="end" textLength="7.18" lengthAdjust="spacingAndGlyphs" stroke="#1a1a1a" stroke-width="0.22">-1</text>
<text x="248.20" y="420.42" font-size="8.5" text-anchor="end" textLength="13.91" lengthAdjust="spacingAndGlyphs" stroke="#1a1a1a" stroke-width="0.22">-1.2</text>
<text x="248.20" y="429.77" font-size="8.5" text-anchor="end" textLength="13.91" lengthAdjust="spacingAndGlyphs" stroke="#1a1a1a" stroke-width="0.22">-1.4</text>
<text x="248.20" y="439.12" font-size="8.5" text-anchor="end" textLength="13.91" lengthAdjust="spacingAndGlyphs" stroke="#1a1a1a" stroke-width="0.22">-1.6</text>
<text x="248.20" y="448.47" font-size="8.5" text-anchor="end" textLength="13.91" lengthAdjust="spacingAndGlyphs" stroke="#1a1a1a" stroke-width="0.22">-1.8</text>
<text x="248.20" y="457.82" font-size="8.5" text-anchor="end" textLength="7.18" lengthAdjust="spacingAndGlyphs" stroke="#1a1a1a" stroke-width="0.22">-2</text>
<text x="248.20" y="467.17" font-size="8.5" text-anchor="end" textLength="13.91" lengthAdjust="spacingAndGlyphs" stroke="#1a1a1a" stroke-width="0.22">-2.2</text>
<text x="248.20" y="476.52" font-size="8.5" text-anchor="end" textLength="13.91" lengthAdjust="spacingAndGlyphs" stroke="#1a1a1a" stroke-width="0.22">-2.4</text>
<text x="248.20" y="485.87" font-size="8.5" text-anchor="end" textLength="13.91" lengthAdjust="spacingAndGlyphs" stroke="#1a1a1a" stroke-width="0.22">-2.6</text>
<text x="248.20" y="495.22" font-size="8.5" text-anchor="end" textLength="13.91" lengthAdjust="spacingAndGlyphs" stroke="#1a1a1a" stroke-width="0.22">-2.8</text>
<text x="248.20" y="504.57" font-size="8.5" text-anchor="end" textLength="7.18" lengthAdjust="spacingAndGlyphs" stroke="#1a1a1a" stroke-width="0.22">-3</text>
<text x="248.20" y="513.92" font-size="8.5" text-anchor="end" textLength="13.91" lengthAdjust="spacingAndGlyphs" stroke="#1a1a1a" stroke-width="0.22">-3.2</text>
<text x="257.60" y="528.02" font-size="8.5" text-anchor="middle" textLength="4.49" lengthAdjust="spacingAndGlyphs" stroke="#1a1a1a" stroke-width="0.22">0</text>
<text x="308.80" y="528.02" font-size="8.5" text-anchor="middle" textLength="17.96" lengthAdjust="spacingAndGlyphs" stroke="#1a1a1a" stroke-width="0.22">1000</text>
<text x="360.00" y="528.02" font-size="8.5" text-anchor="middle" textLength="17.96" lengthAdjust="spacingAndGlyphs" stroke="#1a1a1a" stroke-width="0.22">2000</text>
<text x="411.20" y="528.02" font-size="8.5" text-anchor="middle" textLength="17.96" lengthAdjust="spacingAndGlyphs" stroke="#1a1a1a" stroke-width="0.22">3000</text>
<text x="335.71" y="535.50" font-size="8.5" textLength="29.48" lengthAdjust="spacingAndGlyphs" stroke="#1a1a1a" stroke-width="0.22">Time [s]</text>
<text x="228.0" y="350.4" font-size="9.4" font-style="italic" class="s" stroke="#1a1a1a" stroke-width="0.15" textLength="29.7" lengthAdjust="spacingAndGlyphs">μ<tspan font-size="6.4" dy="1.8">i</tspan><tspan dy="-1.8" font-style="normal">[</tspan>MPa<tspan font-style="normal">]</tspan></text>
<path d="M257.60 361.30 L258.31 362.38 L259.02 364.03 L259.74 366.21 L260.45 369.23 L261.16 372.88 L261.87 377.50 L262.58 383.03 L263.30 389.14 L264.01 395.49 L264.72 402.03 L265.43 409.19 L266.14 416.68 L266.86 424.17 L267.57 431.39 L268.28 438.61 L268.99 445.81 L269.70 452.81 L270.42 459.44 L271.13 465.77 L271.84 471.93 L272.55 477.77 L273.26 483.11 L273.98 487.83 L274.69 492.22 L275.40 496.28 L276.11 499.92 L276.82 503.10 L277.54 505.96 L278.25 508.25 L278.96 509.64 L279.67 510.53 L280.38 510.37 L281.09 509.47 L281.81 508.21 L282.52 506.21 L283.23 503.85 L283.94 501.12 L284.65 497.98 L285.37 494.54 L286.08 490.93 L286.79 487.26 L287.50 483.66 L288.21 480.19 L288.93 476.68 L289.64 473.13 L290.35 469.56 L291.06 465.96 L291.77 462.37 L292.49 458.79 L293.20 455.23 L293.91 451.73 L294.62 448.24 L295.33 444.69 L296.05 441.13 L296.76 437.57 L297.47 434.06 L298.18 430.62 L298.89 427.30 L299.61 424.13 L300.32 421.13 L301.03 418.27 L301.74 415.45 L302.45 412.70 L303.17 410.03 L303.88 407.46 L304.59 405.03 L305.30 402.75 L306.01 400.64 L306.73 398.73 L307.44 396.98 L308.15 395.31 L308.86 393.73 L309.57 392.25 L310.29 390.84 L311.00 389.52 L311.71 388.27 L312.42 387.10 L313.13 386.00 L313.85 384.94 L314.56 383.93 L315.27 382.95 L315.98 382.02 L316.69 381.12 L317.41 380.27 L318.12 379.46 L318.83 378.69 L319.54 377.97 L320.25 377.29 L320.97 376.66 L321.68 376.05 L322.39 375.45 L323.10 374.88 L323.81 374.33 L324.53 373.81 L325.24 373.31 L325.95 372.85 L326.66 372.42 L327.37 372.03 L328.08 371.67 L328.80 371.36 L329.51 371.07 L330.22 370.79 L330.93 370.53 L331.64 370.27 L332.36 370.02 L333.07 369.79 L333.78 369.56 L334.49 369.34 L335.20 369.13 L335.92 368.92 L336.63 368.73 L337.34 368.54 L338.05 368.36 L338.76 368.19 L339.48 368.02 L340.19 367.86 L340.90 367.71 L341.61 367.56 L342.32 367.41 L343.04 367.27 L343.75 367.14 L344.46 367.01 L345.17 366.88 L345.88 366.75 L346.60 366.63 L347.31 366.51 L348.02 366.39 L348.73 366.28 L349.44 366.17 L350.16 366.06 L350.87 365.95 L351.58 365.85 L352.29 365.75 L353.00 365.65 L353.72 365.56 L354.43 365.47 L355.14 365.39 L355.85 365.31 L356.56 365.23 L357.28 365.16 L357.99 365.09 L358.70 365.02 L359.41 364.96 L360.12 364.91 L360.84 364.85 L361.55 364.80 L362.26 364.75 L362.97 364.70 L363.68 364.66 L364.40 364.61 L365.11 364.57 L365.82 364.53 L366.53 364.49 L367.24 364.45 L367.96 364.41 L368.67 364.37 L369.38 364.33 L370.09 364.30 L370.80 364.26 L371.52 364.23 L372.23 364.20 L372.94 364.17 L373.65 364.14 L374.36 364.11 L375.07 364.08 L375.79 364.05 L376.50 364.02 L377.21 364.00 L377.92 363.97 L378.63 363.95 L379.35 363.92 L380.06 363.90 L380.77 363.87 L381.48 363.85 L382.19 363.83 L382.91 363.81 L383.62 363.79 L384.33 363.76 L385.04 363.74 L385.75 363.72 L386.47 363.70 L387.18 363.68 L387.89 363.66 L388.60 363.64 L389.31 363.62 L390.03 363.60 L390.74 363.58 L391.45 363.56 L392.16 363.55 L392.87 363.53 L393.59 363.51 L394.30 363.49 L395.01 363.48 L395.72 363.46 L396.43 363.44 L397.15 363.43 L397.86 363.41 L398.57 363.40 L399.28 363.38 L399.99 363.37 L400.71 363.35 L401.42 363.34 L402.13 363.33 L402.84 363.31 L403.55 363.30 L404.27 363.29 L404.98 363.28 L405.69 363.26 L406.40 363.25 L407.11 363.24 L407.83 363.23 L408.54 363.22 L409.25 363.21 L409.96 363.20 L410.67 363.19 L411.39 363.18 L412.10 363.17 L412.81 363.16 L413.52 363.15 L414.23 363.14 L414.95 363.13 L415.66 363.13 L416.37 363.12 L417.08 363.11 L417.79 363.10 L418.51 363.09 L419.22 363.08 L419.93 363.07 L420.64 363.06 L421.35 363.06 L422.06 363.05 L422.78 363.04 L423.49 363.03 L424.20 363.02 L424.91 363.02 L425.62 363.01 L426.34 363.00 L427.05 362.99 L427.76 362.99 L428.47 362.98 L429.18 362.97 L429.90 362.97 L430.61 362.96 L431.32 362.96 L432.03 362.95 L432.74 362.95 L433.46 362.94 L434.17 362.94 L434.88 362.93 L435.59 362.93 L436.30 362.92 L437.02 362.92 L437.73 362.91 L438.44 362.91 L439.15 362.91 L439.86 362.91 L440.58 362.90 L441.29 362.90 L442.00 362.90" fill="none" stroke="#2549f5" stroke-width="1.75" stroke-linejoin="round"/>
<path d="M257.60 361.30 L258.31 362.23 L259.02 363.50 L259.74 365.06 L260.45 367.18 L261.16 369.74 L261.87 372.48 L262.58 375.14 L263.30 377.73 L264.01 380.40 L264.72 383.11 L265.43 385.81 L266.14 388.45 L266.86 390.99 L267.57 393.39 L268.28 395.76 L268.99 398.10 L269.70 400.37 L270.42 402.52 L271.13 404.52 L271.84 406.32 L272.55 407.95 L273.26 409.50 L273.98 410.97 L274.69 412.33 L275.40 413.57 L276.11 414.68 L276.82 415.63 L277.54 416.45 L278.25 416.91 L278.96 417.16 L279.67 417.15 L280.38 416.84 L281.09 416.40 L281.81 415.67 L282.52 414.72 L283.23 413.71 L283.94 412.59 L284.65 411.33 L285.37 409.97 L286.08 408.55 L286.79 407.11 L287.50 405.68 L288.21 404.29 L288.93 402.85 L289.64 401.38 L290.35 399.88 L291.06 398.39 L291.77 396.92 L292.49 395.49 L293.20 394.12 L293.91 392.83 L294.62 391.61 L295.33 390.41 L296.05 389.23 L296.76 388.08 L297.47 386.98 L298.18 385.92 L298.89 384.94 L299.61 384.02 L300.32 383.19 L301.03 382.44 L301.74 381.73 L302.45 381.07 L303.17 380.45 L303.88 379.86 L304.59 379.29 L305.30 378.74 L306.01 378.21 L306.73 377.68 L307.44 377.16 L308.15 376.66 L308.86 376.17 L309.57 375.69 L310.29 375.23 L311.00 374.78 L311.71 374.35 L312.42 373.93 L313.13 373.53 L313.85 373.13 L314.56 372.74 L315.27 372.36 L315.98 371.99 L316.69 371.63 L317.41 371.28 L318.12 370.94 L318.83 370.62 L319.54 370.31 L320.25 370.01 L320.97 369.74 L321.68 369.47 L322.39 369.20 L323.10 368.95 L323.81 368.70 L324.53 368.46 L325.24 368.23 L325.95 368.01 L326.66 367.81 L327.37 367.62 L328.08 367.44 L328.80 367.28 L329.51 367.13 L330.22 366.98 L330.93 366.83 L331.64 366.69 L332.36 366.56 L333.07 366.43 L333.78 366.30 L334.49 366.18 L335.20 366.06 L335.92 365.94 L336.63 365.83 L337.34 365.72 L338.05 365.61 L338.76 365.51 L339.48 365.41 L340.19 365.32 L340.90 365.22 L341.61 365.14 L342.32 365.05 L343.04 364.96 L343.75 364.88 L344.46 364.80 L345.17 364.73 L345.88 364.65 L346.60 364.58 L347.31 364.50 L348.02 364.43 L348.73 364.36 L349.44 364.29 L350.16 364.22 L350.87 364.16 L351.58 364.09 L352.29 364.03 L353.00 363.97 L353.72 363.91 L354.43 363.86 L355.14 363.80 L355.85 363.75 L356.56 363.70 L357.28 363.66 L357.99 363.61 L358.70 363.57 L359.41 363.54 L360.12 363.50 L360.84 363.47 L361.55 363.44 L362.26 363.41 L362.97 363.38 L363.68 363.35 L364.40 363.33 L365.11 363.30 L365.82 363.27 L366.53 363.25 L367.24 363.22 L367.96 363.20 L368.67 363.18 L369.38 363.16 L370.09 363.14 L370.80 363.11 L371.52 363.09 L372.23 363.08 L372.94 363.06 L373.65 363.04 L374.36 363.02 L375.07 363.00 L375.79 362.99 L376.50 362.97 L377.21 362.96 L377.92 362.94 L378.63 362.93 L379.35 362.91 L380.06 362.90 L380.77 362.89 L381.48 362.87 L382.19 362.86 L382.91 362.85 L383.62 362.83 L384.33 362.82 L385.04 362.81 L385.75 362.80 L386.47 362.79 L387.18 362.78 L387.89 362.77 L388.60 362.76 L389.31 362.75 L390.03 362.74 L390.74 362.73 L391.45 362.72 L392.16 362.71 L392.87 362.70 L393.59 362.69 L394.30 362.68 L395.01 362.67 L395.72 362.66 L396.43 362.65 L397.15 362.64 L397.86 362.64 L398.57 362.63 L399.28 362.62 L399.99 362.61 L400.71 362.60 L401.42 362.59 L402.13 362.59 L402.84 362.58 L403.55 362.57 L404.27 362.56 L404.98 362.55 L405.69 362.55 L406.40 362.54 L407.11 362.53 L407.83 362.52 L408.54 362.52 L409.25 362.51 L409.96 362.50 L410.67 362.49 L411.39 362.48 L412.10 362.48 L412.81 362.47 L413.52 362.46 L414.23 362.45 L414.95 362.45 L415.66 362.44 L416.37 362.43 L417.08 362.42 L417.79 362.42 L418.51 362.41 L419.22 362.40 L419.93 362.39 L420.64 362.39 L421.35 362.38 L422.06 362.37 L422.78 362.37 L423.49 362.36 L424.20 362.35 L424.91 362.35 L425.62 362.34 L426.34 362.33 L427.05 362.33 L427.76 362.32 L428.47 362.31 L429.18 362.31 L429.90 362.30 L430.61 362.29 L431.32 362.29 L432.03 362.28 L432.74 362.27 L433.46 362.27 L434.17 362.26 L434.88 362.26 L435.59 362.25 L436.30 362.24 L437.02 362.24 L437.73 362.23 L438.44 362.23 L439.15 362.22 L439.86 362.22 L440.58 362.21 L441.29 362.21 L442.00 362.20" fill="none" stroke="#28b43a" stroke-width="1.75" stroke-linejoin="round"/>
<rect x="329.70" y="485.40" width="116.40" height="28.50" fill="#9a9a9a"/>
<rect x="328.70" y="484.40" width="116.40" height="28.50" fill="#fff" stroke="#555" stroke-width="0.8"/>
<path d="M332.7 492.10H346.2" stroke="#2549f5" stroke-width="1.5"/>
<text x="348.60" y="495.12" font-size="8.5" textLength="24.20" lengthAdjust="spacingAndGlyphs" stroke="#1a1a1a" stroke-width="0.22">GPCRs</text>
<text x="375.20" y="495.12" font-size="8.5" textLength="67.00" lengthAdjust="spacingAndGlyphs" stroke="#1a1a1a" stroke-width="0.22">chemical potential</text>
<path d="M332.7 505.20H346.2" stroke="#28b43a" stroke-width="1.5"/>
<text x="348.60" y="508.22" font-size="8.5" textLength="19.50" lengthAdjust="spacingAndGlyphs" stroke="#1a1a1a" stroke-width="0.22">MRPs</text>
<text x="370.50" y="508.22" font-size="8.5" textLength="67.00" lengthAdjust="spacingAndGlyphs" stroke="#1a1a1a" stroke-width="0.22">chemical potential</text>
<rect x="259.40" y="33.30" width="186.70" height="154.80" fill="#fff"/>
<path d="M266.50 33.30V188.10M335.50 33.30V188.10M404.50 33.30V188.10M259.40 176.30H446.10M259.40 160.42H446.10M259.40 144.54H446.10M259.40 128.66H446.10M259.40 112.78H446.10M259.40 96.90H446.10M259.40 81.02H446.10M259.40 65.14H446.10M259.40 49.26H446.10" stroke="#e4e4e4" stroke-width="0.7" fill="none"/>
<path d="M266.50 188.10v-2.2M266.50 33.30v2.2M335.50 188.10v-2.2M335.50 33.30v2.2M404.50 188.10v-2.2M404.50 33.30v2.2M259.40 176.30h2.2M446.10 176.30h-2.2M259.40 160.42h2.2M446.10 160.42h-2.2M259.40 144.54h2.2M446.10 144.54h-2.2M259.40 128.66h2.2M446.10 128.66h-2.2M259.40 112.78h2.2M446.10 112.78h-2.2M259.40 96.90h2.2M446.10 96.90h-2.2M259.40 81.02h2.2M446.10 81.02h-2.2M259.40 65.14h2.2M446.10 65.14h-2.2M259.40 49.26h2.2M446.10 49.26h-2.2" stroke="#555" stroke-width="0.7" fill="none"/>
<rect x="259.40" y="33.30" width="186.70" height="154.80" fill="none" stroke="#6a6a6a" stroke-width="0.9"/>
<text x="268.57" y="19.40" font-size="10.1" textLength="162.30" lengthAdjust="spacingAndGlyphs" stroke="#1a1a1a" stroke-width="0.12">Thickness stretch in the raft domain</text>
<text x="257.80" y="179.32" font-size="8.5" text-anchor="end" textLength="4.49" lengthAdjust="spacingAndGlyphs" stroke="#1a1a1a" stroke-width="0.22">1</text>
<text x="257.80" y="163.44" font-size="8.5" text-anchor="end" textLength="15.72" lengthAdjust="spacingAndGlyphs" stroke="#1a1a1a" stroke-width="0.22">1.05</text>
<text x="257.80" y="147.56" font-size="8.5" text-anchor="end" textLength="11.23" lengthAdjust="spacingAndGlyphs" stroke="#1a1a1a" stroke-width="0.22">1.1</text>
<text x="257.80" y="131.68" font-size="8.5" text-anchor="end" textLength="15.72" lengthAdjust="spacingAndGlyphs" stroke="#1a1a1a" stroke-width="0.22">1.15</text>
<text x="257.80" y="115.80" font-size="8.5" text-anchor="end" textLength="11.23" lengthAdjust="spacingAndGlyphs" stroke="#1a1a1a" stroke-width="0.22">1.2</text>
<text x="257.80" y="99.92" font-size="8.5" text-anchor="end" textLength="15.72" lengthAdjust="spacingAndGlyphs" stroke="#1a1a1a" stroke-width="0.22">1.25</text>
<text x="257.80" y="84.04" font-size="8.5" text-anchor="end" textLength="11.23" lengthAdjust="spacingAndGlyphs" stroke="#1a1a1a" stroke-width="0.22">1.3</text>
<text x="257.80" y="68.16" font-size="8.5" text-anchor="end" textLength="15.72" lengthAdjust="spacingAndGlyphs" stroke="#1a1a1a" stroke-width="0.22">1.35</text>
<text x="257.80" y="52.28" font-size="8.5" text-anchor="end" textLength="11.23" lengthAdjust="spacingAndGlyphs" stroke="#1a1a1a" stroke-width="0.22">1.4</text>
<text x="266.50" y="197.72" font-size="8.5" text-anchor="middle" textLength="4.49" lengthAdjust="spacingAndGlyphs" stroke="#1a1a1a" stroke-width="0.22">0</text>
<text x="335.50" y="197.72" font-size="8.5" text-anchor="middle" textLength="4.49" lengthAdjust="spacingAndGlyphs" stroke="#1a1a1a" stroke-width="0.22">2</text>
<text x="404.50" y="197.72" font-size="8.5" text-anchor="middle" textLength="4.49" lengthAdjust="spacingAndGlyphs" stroke="#1a1a1a" stroke-width="0.22">4</text>
<text x="341.80" y="204.70" font-size="8.0" textLength="22.35" lengthAdjust="spacingAndGlyphs" stroke="#1a1a1a" stroke-width="0.22">x[μm]</text>
<text x="226.87" y="116.30" font-size="8.2" textLength="5.15" lengthAdjust="spacingAndGlyphs" stroke="#1a1a1a" stroke-width="0.1">Ø</text>
<text x="232.43" y="116.50" font-size="9.4" textLength="12.23" lengthAdjust="spacingAndGlyphs" stroke="#1a1a1a" stroke-width="0.1">[−]</text>
<path d="M266.50 41.00 L276.50 55.29 L277.32 58.00 L278.13 60.70 L278.94 63.39 L279.75 66.08 L280.56 68.76 L281.37 71.44 L282.18 74.12 L283.00 76.79 L283.81 79.45 L284.62 82.11 L285.43 84.77 L286.24 87.42 L287.05 90.07 L287.86 92.72 L288.68 95.39 L289.49 98.07 L290.30 100.76 L291.11 103.44 L291.92 106.12 L292.73 108.78 L293.54 111.42 L294.35 114.03 L295.17 116.60 L295.98 119.13 L296.79 121.62 L297.60 124.04 L298.41 126.46 L299.22 128.89 L300.03 131.29 L300.85 133.66 L301.66 135.95 L302.47 138.15 L303.28 140.23 L304.09 142.15 L304.90 143.92 L305.71 145.60 L306.53 147.19 L307.34 148.71 L308.15 150.16 L308.96 151.55 L309.77 152.89 L310.58 154.17 L311.39 155.40 L312.20 156.60 L313.02 157.77 L313.83 158.89 L314.64 159.98 L315.45 161.02 L316.26 162.02 L317.07 162.96 L317.88 163.85 L318.70 164.69 L319.51 165.50 L320.32 166.29 L321.13 167.05 L321.94 167.79 L322.75 168.50 L323.56 169.17 L324.38 169.81 L325.19 170.41 L326.00 170.97 L326.81 171.50 L327.62 171.98 L328.43 172.46 L329.24 172.91 L330.05 173.34 L330.87 173.75 L331.68 174.14 L332.49 174.51 L333.30 174.85 L334.11 175.17 L334.92 175.47 L335.73 175.74 L336.55 176.00 L337.36 176.25 L338.17 176.48 L338.98 176.71 L339.79 176.93 L340.60 177.13 L341.41 177.33 L342.22 177.52 L343.04 177.69 L343.85 177.85 L344.66 178.00 L345.47 178.14 L346.28 178.27 L347.09 178.40 L347.90 178.52 L348.72 178.64 L349.53 178.76 L350.34 178.87 L351.15 178.98 L351.96 179.08 L352.77 179.18 L353.58 179.27 L354.40 179.36 L355.21 179.44 L356.02 179.52 L356.83 179.59 L357.64 179.66 L358.45 179.72 L359.26 179.77 L360.07 179.82 L360.89 179.86 L361.70 179.91 L362.51 179.95 L363.32 179.99 L364.13 180.03 L364.94 180.07 L365.75 180.10 L366.57 180.14 L367.38 180.17 L368.19 180.20 L369.00 180.23 L369.81 180.26 L370.62 180.28 L371.43 180.31 L372.25 180.33 L373.06 180.35 L373.87 180.37 L374.68 180.39 L375.49 180.41 L376.30 180.42 L377.11 180.43 L377.92 180.44 L378.74 180.45 L379.55 180.46 L380.36 180.47 L381.17 180.48 L381.98 180.49 L382.79 180.50 L383.60 180.51 L384.42 180.52 L385.23 180.53 L386.04 180.53 L386.85 180.54 L387.66 180.55 L388.47 180.56 L389.28 180.56 L390.09 180.57 L390.91 180.57 L391.72 180.58 L392.53 180.59 L393.34 180.59 L394.15 180.60 L394.96 180.60 L395.77 180.61 L396.59 180.61 L397.40 180.62 L398.21 180.62 L399.02 180.63 L399.83 180.63 L400.64 180.63 L401.45 180.64 L402.27 180.64 L403.08 180.64 L403.89 180.65 L404.70 180.65 L405.51 180.66 L406.32 180.66 L407.13 180.66 L407.94 180.67 L408.76 180.67 L409.57 180.67 L410.38 180.68 L411.19 180.68 L412.00 180.68 L412.81 180.69 L413.62 180.69 L414.44 180.69 L415.25 180.70 L416.06 180.70 L416.87 180.70 L417.68 180.70 L418.49 180.71 L419.30 180.71 L420.12 180.71 L420.93 180.72 L421.74 180.72 L422.55 180.72 L423.36 180.72 L424.17 180.73 L424.98 180.73 L425.79 180.73 L426.61 180.73 L427.42 180.73 L428.23 180.74 L429.04 180.74 L429.85 180.74 L430.66 180.74 L431.47 180.74 L432.29 180.74 L433.10 180.74 L433.91 180.74 L434.72 180.75 L435.53 180.75 L436.34 180.75 L437.15 180.75 L437.97 180.75" fill="none" stroke="#e0212b" stroke-width="1.45" stroke-linejoin="round"/>
<path d="M266.50 70.54 L276.50 81.97 L277.32 84.21 L278.13 86.44 L278.94 88.66 L279.75 90.86 L280.56 93.06 L281.37 95.24 L282.18 97.41 L283.00 99.57 L283.81 101.71 L284.62 103.85 L285.43 105.97 L286.24 108.08 L287.05 110.18 L287.86 112.27 L288.68 114.37 L289.49 116.48 L290.30 118.59 L291.11 120.68 L291.92 122.77 L292.73 124.83 L293.54 126.86 L294.35 128.86 L295.17 130.82 L295.98 132.73 L296.79 134.59 L297.60 136.39 L298.41 138.16 L299.22 139.90 L300.03 141.61 L300.85 143.28 L301.66 144.90 L302.47 146.46 L303.28 147.94 L304.09 149.35 L304.90 150.67 L305.71 151.93 L306.53 153.15 L307.34 154.31 L308.15 155.44 L308.96 156.52 L309.77 157.55 L310.58 158.55 L311.39 159.52 L312.20 160.45 L313.02 161.37 L313.83 162.25 L314.64 163.11 L315.45 163.93 L316.26 164.71 L317.07 165.45 L317.88 166.15 L318.70 166.81 L319.51 167.45 L320.32 168.06 L321.13 168.65 L321.94 169.22 L322.75 169.77 L323.56 170.29 L324.38 170.79 L325.19 171.27 L326.00 171.71 L326.81 172.14 L327.62 172.54 L328.43 172.93 L329.24 173.30 L330.05 173.65 L330.87 174.00 L331.68 174.32 L332.49 174.64 L333.30 174.93 L334.11 175.22 L334.92 175.48 L335.73 175.74 L336.55 175.98 L337.36 176.22 L338.17 176.46 L338.98 176.68 L339.79 176.90 L340.60 177.11 L341.41 177.31 L342.22 177.50 L343.04 177.68 L343.85 177.85 L344.66 178.00 L345.47 178.14 L346.28 178.27 L347.09 178.40 L347.90 178.52 L348.72 178.64 L349.53 178.76 L350.34 178.87 L351.15 178.98 L351.96 179.08 L352.77 179.18 L353.58 179.27 L354.40 179.36 L355.21 179.44 L356.02 179.52 L356.83 179.59 L357.64 179.66 L358.45 179.72 L359.26 179.77 L360.07 179.82 L360.89 179.86 L361.70 179.91 L362.51 179.95 L363.32 179.99 L364.13 180.03 L364.94 180.07 L365.75 180.10 L366.57 180.14 L367.38 180.17 L368.19 180.20 L369.00 180.23 L369.81 180.26 L370.62 180.28 L371.43 180.31 L372.25 180.33 L373.06 180.35 L373.87 180.37 L374.68 180.39 L375.49 180.41 L376.30 180.42 L377.11 180.43 L377.92 180.44 L378.74 180.45 L379.55 180.46 L380.36 180.47 L381.17 180.48 L381.98 180.49 L382.79 180.50 L383.60 180.51 L384.42 180.52 L385.23 180.53 L386.04 180.53 L386.85 180.54 L387.66 180.55 L388.47 180.56 L389.28 180.56 L390.09 180.57 L390.91 180.57 L391.72 180.58 L392.53 180.59 L393.34 180.59 L394.15 180.60 L394.96 180.60 L395.77 180.61 L396.59 180.61 L397.40 180.62 L398.21 180.62 L399.02 180.63 L399.83 180.63 L400.64 180.63 L401.45 180.64 L402.27 180.64 L403.08 180.64 L403.89 180.65 L404.70 180.65 L405.51 180.66 L406.32 180.66 L407.13 180.66 L407.94 180.67 L408.76 180.67 L409.57 180.67 L410.38 180.68 L411.19 180.68 L412.00 180.68 L412.81 180.69 L413.62 180.69 L414.44 180.69 L415.25 180.70 L416.06 180.70 L416.87 180.70 L417.68 180.70 L418.49 180.71 L419.30 180.71 L420.12 180.71 L420.93 180.72 L421.74 180.72 L422.55 180.72 L423.36 180.72 L424.17 180.73 L424.98 180.73 L425.79 180.73 L426.61 180.73 L427.42 180.73 L428.23 180.74 L429.04 180.74 L429.85 180.74 L430.66 180.74 L431.47 180.74 L432.29 180.74 L433.10 180.74 L433.91 180.74 L434.72 180.75 L435.53 180.75 L436.34 180.75 L437.15 180.75 L437.97 180.75" fill="none" stroke="#e0212b" stroke-width="1.45" stroke-dasharray="1.2 1.8 10.6 1.8" stroke-linejoin="round"/>
<path d="M266.50 144.54 L267.36 144.57 L268.22 144.65 L269.08 144.75 L269.95 144.90 L270.81 145.06 L271.67 145.26 L272.53 145.47 L273.39 145.71 L274.25 145.96 L275.12 146.22 L275.98 146.49 L276.84 146.76 L277.70 147.07 L278.56 147.46 L279.42 147.90 L280.29 148.40 L281.15 148.94 L282.01 149.51 L282.87 150.10 L283.73 150.71 L284.59 151.33 L285.46 151.94 L286.32 152.53 L287.18 153.10 L288.04 153.66 L288.90 154.23 L289.76 154.81 L290.63 155.40 L291.49 156.00 L292.35 156.59 L293.21 157.19 L294.07 157.78 L294.93 158.37 L295.80 158.95 L296.66 159.52 L297.52 160.08 L298.38 160.64 L299.24 161.20 L300.10 161.76 L300.97 162.33 L301.83 162.88 L302.69 163.43 L303.55 163.97 L304.41 164.50 L305.27 165.02 L306.14 165.51 L307.00 165.98 L307.86 166.43 L308.72 166.86 L309.58 167.29 L310.44 167.70 L311.30 168.10 L312.17 168.48 L313.03 168.86 L313.89 169.23 L314.75 169.58 L315.61 169.93 L316.47 170.26 L317.34 170.58 L318.20 170.88 L319.06 171.18 L319.92 171.47 L320.78 171.75 L321.64 172.02 L322.51 172.28 L323.37 172.54 L324.23 172.78 L325.09 173.02 L325.95 173.25 L326.81 173.48 L327.68 173.69 L328.54 173.90 L329.40 174.11 L330.26 174.31 L331.12 174.50 L331.98 174.70 L332.85 174.88 L333.71 175.06 L334.57 175.24 L335.43 175.40 L336.29 175.56 L337.15 175.71 L338.02 175.85 L338.88 175.97 L339.74 176.09 L340.60 176.21 L341.46 176.32 L342.32 176.44 L343.19 176.55 L344.05 176.65 L344.91 176.75 L345.77 176.85 L346.63 176.94 L347.49 177.03 L348.36 177.11 L349.22 177.18 L350.08 177.25 L350.94 177.31 L351.80 177.36 L352.66 177.41 L353.52 177.45 L354.39 177.48 L355.25 177.52 L356.11 177.55 L356.97 177.58 L357.83 177.61 L358.69 177.64 L359.56 177.67 L360.42 177.70 L361.28 177.72 L362.14 177.75 L363.00 177.77 L363.86 177.79 L364.73 177.81 L365.59 177.83 L366.45 177.84 L367.31 177.86 L368.17 177.87 L369.03 177.88 L369.90 177.89 L370.76 177.89 L371.62 177.90 L372.48 177.91 L373.34 177.92 L374.20 177.92 L375.07 177.93 L375.93 177.94 L376.79 177.94 L377.65 177.95 L378.51 177.95 L379.37 177.96 L380.24 177.97 L381.10 177.97 L381.96 177.98 L382.82 177.98 L383.68 177.99 L384.54 177.99 L385.41 178.00 L386.27 178.00 L387.13 178.00 L387.99 178.01 L388.85 178.01 L389.71 178.02 L390.58 178.02 L391.44 178.02 L392.30 178.03 L393.16 178.03 L394.02 178.03 L394.88 178.03 L395.74 178.04 L396.61 178.04 L397.47 178.04 L398.33 178.04 L399.19 178.04 L400.05 178.04 L400.91 178.04 L401.78 178.05 L402.64 178.05 L403.50 178.05 L404.36 178.05 L405.22 178.05 L406.08 178.05 L406.95 178.05 L407.81 178.05 L408.67 178.05 L409.53 178.05 L410.39 178.05 L411.25 178.05 L412.12 178.05 L412.98 178.05 L413.84 178.05 L414.70 178.05 L415.56 178.05 L416.42 178.05 L417.29 178.05 L418.15 178.05 L419.01 178.05 L419.87 178.05 L420.73 178.05 L421.59 178.05 L422.46 178.05 L423.32 178.05 L424.18 178.05 L425.04 178.05 L425.90 178.05 L426.76 178.05 L427.63 178.05 L428.49 178.05 L429.35 178.05 L430.21 178.05 L431.07 178.05 L431.93 178.05 L432.80 178.05 L433.66 178.05 L434.52 178.05 L435.38 178.05 L436.24 178.05 L437.10 178.05 L437.97 178.05" fill="none" stroke="#e0212b" stroke-width="1.4" stroke-dasharray="1.3 1.6" stroke-linejoin="round"/>
<rect x="261.1" y="38.6" width="11.8" height="9.9" fill="none" stroke="#ee5a5a" stroke-width="0.95" stroke-dasharray="1.9 1.3"/>
<rect x="400.80" y="38.60" width="41.70" height="32.40" fill="#9a9a9a"/>
<rect x="399.80" y="37.60" width="41.70" height="32.40" fill="#fff" stroke="#555" stroke-width="0.8"/>
<path d="M403.1 44.60H415.2" stroke="#e0212b" stroke-width="1.4" stroke-dasharray="1.1 1.4"/>
<text x="418.00" y="47.62" font-size="8.5" textLength="19.40" lengthAdjust="spacingAndGlyphs" stroke="#1a1a1a" stroke-width="0.22">150 s</text>
<path d="M403.1 54.50H415.2" stroke="#e0212b" stroke-width="1.4" stroke-dasharray="1 1.6 8 0"/>
<text x="418.00" y="57.52" font-size="8.5" textLength="19.40" lengthAdjust="spacingAndGlyphs" stroke="#1a1a1a" stroke-width="0.22">300 s</text>
<path d="M403.1 64.40H415.2" stroke="#e0212b" stroke-width="1.4"/>
<text x="418.00" y="67.42" font-size="8.5" textLength="19.40" lengthAdjust="spacingAndGlyphs" stroke="#1a1a1a" stroke-width="0.22">450 s</text>
<rect x="474.60" y="33.30" width="201.90" height="153.00" fill="#fff"/>
<path d="M482.30 33.30V186.30M556.70 33.30V186.30M631.10 33.30V186.30M474.60 180.90H676.50M474.60 170.20H676.50M474.60 159.50H676.50M474.60 148.80H676.50M474.60 138.10H676.50M474.60 127.40H676.50M474.60 116.70H676.50M474.60 106.00H676.50M474.60 95.30H676.50M474.60 84.60H676.50M474.60 73.90H676.50M474.60 63.20H676.50M474.60 52.50H676.50M474.60 41.80H676.50" stroke="#e4e4e4" stroke-width="0.7" fill="none"/>
<path d="M482.30 186.30v-2.2M482.30 33.30v2.2M556.70 186.30v-2.2M556.70 33.30v2.2M631.10 186.30v-2.2M631.10 33.30v2.2M474.60 180.90h2.2M676.50 180.90h-2.2M474.60 170.20h2.2M676.50 170.20h-2.2M474.60 159.50h2.2M676.50 159.50h-2.2M474.60 148.80h2.2M676.50 148.80h-2.2M474.60 138.10h2.2M676.50 138.10h-2.2M474.60 127.40h2.2M676.50 127.40h-2.2M474.60 116.70h2.2M676.50 116.70h-2.2M474.60 106.00h2.2M676.50 106.00h-2.2M474.60 95.30h2.2M676.50 95.30h-2.2M474.60 84.60h2.2M676.50 84.60h-2.2M474.60 73.90h2.2M676.50 73.90h-2.2M474.60 63.20h2.2M676.50 63.20h-2.2M474.60 52.50h2.2M676.50 52.50h-2.2M474.60 41.80h2.2M676.50 41.80h-2.2" stroke="#555" stroke-width="0.7" fill="none"/>
<rect x="474.60" y="33.30" width="201.90" height="153.00" fill="none" stroke="#6a6a6a" stroke-width="0.9"/>
<text x="501.92" y="19.60" font-size="10.1" textLength="60.46" lengthAdjust="spacingAndGlyphs" stroke="#1a1a1a" stroke-width="0.12">Localization of</text>
<text x="568.97" y="19.60" font-size="10.1" textLength="29.25" lengthAdjust="spacingAndGlyphs" stroke="#1a1a1a" stroke-width="0.12">GPCRs</text>
<text x="602.28" y="19.60" font-size="10.1" textLength="33.69" lengthAdjust="spacingAndGlyphs" stroke="#1a1a1a" stroke-width="0.12">on rafts</text>
<text x="473.00" y="183.92" font-size="8.5" text-anchor="end" textLength="11.23" lengthAdjust="spacingAndGlyphs" stroke="#1a1a1a" stroke-width="0.22">0.1</text>
<text x="473.00" y="173.22" font-size="8.5" text-anchor="end" textLength="11.23" lengthAdjust="spacingAndGlyphs" stroke="#1a1a1a" stroke-width="0.22">0.2</text>
<text x="473.00" y="162.52" font-size="8.5" text-anchor="end" textLength="11.23" lengthAdjust="spacingAndGlyphs" stroke="#1a1a1a" stroke-width="0.22">0.3</text>
<text x="473.00" y="151.82" font-size="8.5" text-anchor="end" textLength="11.23" lengthAdjust="spacingAndGlyphs" stroke="#1a1a1a" stroke-width="0.22">0.4</text>
<text x="473.00" y="141.12" font-size="8.5" text-anchor="end" textLength="11.23" lengthAdjust="spacingAndGlyphs" stroke="#1a1a1a" stroke-width="0.22">0.5</text>
<text x="473.00" y="130.42" font-size="8.5" text-anchor="end" textLength="11.23" lengthAdjust="spacingAndGlyphs" stroke="#1a1a1a" stroke-width="0.22">0.6</text>
<text x="473.00" y="119.72" font-size="8.5" text-anchor="end" textLength="11.23" lengthAdjust="spacingAndGlyphs" stroke="#1a1a1a" stroke-width="0.22">0.7</text>
<text x="473.00" y="109.02" font-size="8.5" text-anchor="end" textLength="11.23" lengthAdjust="spacingAndGlyphs" stroke="#1a1a1a" stroke-width="0.22">0.8</text>
<text x="473.00" y="98.32" font-size="8.5" text-anchor="end" textLength="11.23" lengthAdjust="spacingAndGlyphs" stroke="#1a1a1a" stroke-width="0.22">0.9</text>
<text x="473.00" y="87.62" font-size="8.5" text-anchor="end" textLength="4.49" lengthAdjust="spacingAndGlyphs" stroke="#1a1a1a" stroke-width="0.22">1</text>
<text x="473.00" y="76.92" font-size="8.5" text-anchor="end" textLength="11.23" lengthAdjust="spacingAndGlyphs" stroke="#1a1a1a" stroke-width="0.22">1.1</text>
<text x="473.00" y="66.22" font-size="8.5" text-anchor="end" textLength="11.23" lengthAdjust="spacingAndGlyphs" stroke="#1a1a1a" stroke-width="0.22">1.2</text>
<text x="473.00" y="55.52" font-size="8.5" text-anchor="end" textLength="11.23" lengthAdjust="spacingAndGlyphs" stroke="#1a1a1a" stroke-width="0.22">1.3</text>
<text x="473.00" y="44.82" font-size="8.5" text-anchor="end" textLength="11.23" lengthAdjust="spacingAndGlyphs" stroke="#1a1a1a" stroke-width="0.22">1.4</text>
<text x="482.30" y="195.92" font-size="8.5" text-anchor="middle" textLength="4.49" lengthAdjust="spacingAndGlyphs" stroke="#1a1a1a" stroke-width="0.22">0</text>
<text x="556.70" y="195.92" font-size="8.5" text-anchor="middle" textLength="4.49" lengthAdjust="spacingAndGlyphs" stroke="#1a1a1a" stroke-width="0.22">2</text>
<text x="631.10" y="195.92" font-size="8.5" text-anchor="middle" textLength="4.49" lengthAdjust="spacingAndGlyphs" stroke="#1a1a1a" stroke-width="0.22">4</text>
<text x="558.70" y="202.40" font-size="7.0" textLength="21.11" lengthAdjust="spacingAndGlyphs" stroke="#1a1a1a" stroke-width="0.22">x[μm]</text>
<path d="M482.30 41.00 L483.23 41.07 L484.16 41.20 L485.09 41.39 L486.02 41.61 L486.95 41.85 L487.87 42.16 L488.80 42.56 L489.73 43.03 L490.66 43.55 L491.59 44.18 L492.52 44.93 L493.45 45.75 L494.38 46.62 L495.31 47.48 L496.24 48.37 L497.17 49.30 L498.09 50.25 L499.02 51.23 L499.95 52.23 L500.88 53.24 L501.81 54.27 L502.74 55.31 L503.67 56.34 L504.60 57.38 L505.53 58.41 L506.46 59.49 L507.38 60.60 L508.31 61.75 L509.24 62.91 L510.17 64.07 L511.10 65.20 L512.03 66.31 L512.96 67.37 L513.89 68.37 L514.82 69.29 L515.75 70.13 L516.68 70.92 L517.60 71.68 L518.53 72.40 L519.46 73.10 L520.39 73.77 L521.32 74.41 L522.25 75.03 L523.18 75.63 L524.11 76.20 L525.04 76.76 L525.97 77.30 L526.90 77.82 L527.82 78.34 L528.75 78.83 L529.68 79.31 L530.61 79.77 L531.54 80.21 L532.47 80.62 L533.40 81.01 L534.33 81.37 L535.26 81.71 L536.19 82.03 L537.11 82.35 L538.04 82.65 L538.97 82.93 L539.90 83.21 L540.83 83.47 L541.76 83.72 L542.69 83.95 L543.62 84.17 L544.55 84.37 L545.48 84.57 L546.41 84.76 L547.33 84.94 L548.26 85.12 L549.19 85.29 L550.12 85.45 L551.05 85.61 L551.98 85.75 L552.91 85.89 L553.84 86.02 L554.77 86.14 L555.70 86.24 L556.63 86.34 L557.55 86.44 L558.48 86.53 L559.41 86.62 L560.34 86.71 L561.27 86.80 L562.20 86.88 L563.13 86.96 L564.06 87.04 L564.99 87.12 L565.92 87.19 L566.84 87.26 L567.77 87.32 L568.70 87.38 L569.63 87.44 L570.56 87.49 L571.49 87.54 L572.42 87.59 L573.35 87.62 L574.28 87.66 L575.21 87.68 L576.14 87.70 L577.06 87.72 L577.99 87.74 L578.92 87.76 L579.85 87.77 L580.78 87.79 L581.71 87.80 L582.64 87.81 L583.57 87.83 L584.50 87.84 L585.43 87.85 L586.36 87.86 L587.28 87.87 L588.21 87.88 L589.14 87.89 L590.07 87.89 L591.00 87.90 L591.93 87.91 L592.86 87.91 L593.79 87.92 L594.72 87.92 L595.65 87.93 L596.58 87.93 L597.50 87.93 L598.43 87.94 L599.36 87.94 L600.29 87.94 L601.22 87.95 L602.15 87.95 L603.08 87.95 L604.01 87.96 L604.94 87.96 L605.87 87.96 L606.79 87.97 L607.72 87.97 L608.65 87.97 L609.58 87.97 L610.51 87.98 L611.44 87.98 L612.37 87.98 L613.30 87.98 L614.23 87.98 L615.16 87.99 L616.09 87.99 L617.01 87.99 L617.94 87.99 L618.87 87.99 L619.80 88.00 L620.73 88.00 L621.66 88.00 L622.59 88.00 L623.52 88.00 L624.45 88.01 L625.38 88.01 L626.31 88.01 L627.23 88.01 L628.16 88.02 L629.09 88.02 L630.02 88.02 L630.95 88.02 L631.88 88.03 L632.81 88.03 L633.74 88.03 L634.67 88.03 L635.60 88.04 L636.52 88.04 L637.45 88.04 L638.38 88.05 L639.31 88.05 L640.24 88.05 L641.17 88.05 L642.10 88.06 L643.03 88.06 L643.96 88.06 L644.89 88.06 L645.82 88.07 L646.74 88.07 L647.67 88.07 L648.60 88.08 L649.53 88.08 L650.46 88.08 L651.39 88.08 L652.32 88.09 L653.25 88.09 L654.18 88.09 L655.11 88.09 L656.04 88.10 L656.96 88.10 L657.89 88.10 L658.82 88.11 L659.75 88.11 L660.68 88.11 L661.61 88.11 L662.54 88.12 L663.47 88.12 L664.40 88.12 L665.33 88.13 L666.25 88.13 L667.18 88.13" fill="none" stroke="#2549f5" stroke-width="1.55" stroke-dasharray="1.3 1.9 10 1.9" stroke-linejoin="round"/>
<path d="M482.30 94.12 L483.23 94.21 L484.16 94.39 L485.09 94.61 L486.02 94.89 L486.95 95.28 L487.87 95.77 L488.80 96.35 L489.73 97.05 L490.66 97.98 L491.59 99.08 L492.52 100.29 L493.45 101.57 L494.38 102.84 L495.31 104.11 L496.24 105.45 L497.17 106.84 L498.09 108.29 L499.02 109.77 L499.95 111.29 L500.88 112.84 L501.81 114.40 L502.74 115.97 L503.67 117.55 L504.60 119.14 L505.53 120.78 L506.46 122.46 L507.38 124.17 L508.31 125.90 L509.24 127.62 L510.17 129.34 L511.10 131.03 L512.03 132.69 L512.96 134.30 L513.89 135.89 L514.82 137.48 L515.75 139.06 L516.68 140.63 L517.60 142.18 L518.53 143.69 L519.46 145.17 L520.39 146.60 L521.32 147.97 L522.25 149.28 L523.18 150.54 L524.11 151.77 L525.04 152.96 L525.97 154.13 L526.90 155.26 L527.82 156.35 L528.75 157.41 L529.68 158.42 L530.61 159.39 L531.54 160.31 L532.47 161.19 L533.40 162.06 L534.33 162.89 L535.26 163.70 L536.19 164.48 L537.11 165.23 L538.04 165.95 L538.97 166.62 L539.90 167.26 L540.83 167.86 L541.76 168.42 L542.69 168.96 L543.62 169.48 L544.55 169.97 L545.48 170.45 L546.41 170.90 L547.33 171.33 L548.26 171.74 L549.19 172.13 L550.12 172.49 L551.05 172.84 L551.98 173.18 L552.91 173.49 L553.84 173.79 L554.77 174.07 L555.70 174.32 L556.63 174.55 L557.55 174.77 L558.48 174.98 L559.41 175.18 L560.34 175.37 L561.27 175.55 L562.20 175.73 L563.13 175.89 L564.06 176.05 L564.99 176.21 L565.92 176.35 L566.84 176.49 L567.77 176.62 L568.70 176.74 L569.63 176.86 L570.56 176.97 L571.49 177.08 L572.42 177.19 L573.35 177.29 L574.28 177.39 L575.21 177.48 L576.14 177.57 L577.06 177.66 L577.99 177.74 L578.92 177.82 L579.85 177.89 L580.78 177.95 L581.71 178.02 L582.64 178.08 L583.57 178.13 L584.50 178.19 L585.43 178.24 L586.36 178.29 L587.28 178.34 L588.21 178.39 L589.14 178.44 L590.07 178.48 L591.00 178.52 L591.93 178.56 L592.86 178.59 L593.79 178.63 L594.72 178.66 L595.65 178.68 L596.58 178.71 L597.50 178.73 L598.43 178.75 L599.36 178.77 L600.29 178.79 L601.22 178.81 L602.15 178.83 L603.08 178.85 L604.01 178.87 L604.94 178.88 L605.87 178.90 L606.79 178.92 L607.72 178.93 L608.65 178.94 L609.58 178.96 L610.51 178.97 L611.44 178.98 L612.37 178.99 L613.30 179.00 L614.23 179.01 L615.16 179.02 L616.09 179.03 L617.01 179.03 L617.94 179.04 L618.87 179.05 L619.80 179.05 L620.73 179.06 L621.66 179.06 L622.59 179.07 L623.52 179.07 L624.45 179.08 L625.38 179.08 L626.31 179.09 L627.23 179.09 L628.16 179.10 L629.09 179.10 L630.02 179.11 L630.95 179.11 L631.88 179.11 L632.81 179.12 L633.74 179.12 L634.67 179.12 L635.60 179.13 L636.52 179.13 L637.45 179.13 L638.38 179.13 L639.31 179.14 L640.24 179.14 L641.17 179.14 L642.10 179.14 L643.03 179.15 L643.96 179.15 L644.89 179.15 L645.82 179.15 L646.74 179.16 L647.67 179.16 L648.60 179.16 L649.53 179.16 L650.46 179.17 L651.39 179.17 L652.32 179.17 L653.25 179.17 L654.18 179.17 L655.11 179.17 L656.04 179.18 L656.96 179.18 L657.89 179.18 L658.82 179.18 L659.75 179.18 L660.68 179.18 L661.61 179.18 L662.54 179.19 L663.47 179.19 L664.40 179.19 L665.33 179.19 L666.25 179.19 L667.18 179.19" fill="none" stroke="#28b43a" stroke-width="1.4" stroke-linejoin="round"/>
<rect x="582.70" y="39.00" width="89.80" height="22.70" fill="#9a9a9a"/>
<rect x="581.70" y="38.00" width="89.80" height="22.70" fill="#fff" stroke="#555" stroke-width="0.8"/>
<path d="M585.6 45.3H597.8" stroke="#2549f5" stroke-width="1.6" stroke-dasharray="1.2 1.9 9 0"/>
<path d="M585.4 55.0H597.8" stroke="#28b43a" stroke-width="1.5"/>
<text x="601.10" y="48.22" font-size="8.5" textLength="66.70" lengthAdjust="spacingAndGlyphs" stroke="#1a1a1a" stroke-width="0.22">Transverse stretch</text>
<text x="601.10" y="58.02" font-size="8.5" textLength="49.30" lengthAdjust="spacingAndGlyphs" stroke="#1a1a1a" stroke-width="0.22">Active GPCRs</text>
<ellipse cx="111" cy="127.0" rx="56.4" ry="29.4" fill="url(#gA1)"/>
<ellipse cx="110.9" cy="102.1" rx="55.7" ry="30.1" fill="#3f86bd" fill-opacity="0.47" stroke="#7d94ac" stroke-width="0.6"/>
<clipPath id="cA"><ellipse cx="111" cy="127.0" rx="56.4" ry="29.4"/></clipPath>
<clipPath id="cA0"><ellipse cx="110.9" cy="102.1" rx="55.7" ry="30.1"/></clipPath>
<g clip-path="url(#cA)"><g clip-path="url(#cA0)"><rect x="50" y="95" width="122" height="40" fill="url(#gA5)"/><ellipse cx="111" cy="111" rx="26" ry="11" fill="url(#gA2)"/></g></g>
<ellipse cx="110.7" cy="94.5" rx="36" ry="9.5" fill="url(#gA6)"/>
<g mask="url(#mkA)"><path d="M110.70 15.90 L112.06 17.30 L112.74 18.70 L113.22 20.10 L113.60 21.50 L113.92 22.90 L114.18 24.30 L114.42 25.70 L114.65 27.10 L114.90 28.50 L115.17 29.90 L115.44 31.30 L115.71 32.70 L115.99 34.10 L116.26 35.50 L116.53 36.90 L116.81 38.30 L117.08 39.70 L117.36 41.10 L117.63 42.50 L117.90 43.90 L118.17 45.30 L118.44 46.70 L118.71 48.10 L118.98 49.50 L119.24 50.90 L119.50 52.30 L119.76 53.70 L120.02 55.10 L120.29 56.50 L120.55 57.90 L120.81 59.30 L121.07 60.70 L121.33 62.10 L121.60 63.50 L121.87 64.90 L122.13 66.30 L122.40 67.70 L122.68 69.10 L122.95 70.50 L123.22 71.90 L123.50 73.30 L123.78 74.70 L124.05 76.10 L124.29 77.50 L124.53 78.90 L124.79 80.30 L125.08 81.70 L125.43 83.10 L125.87 84.50 L126.46 85.90 L127.23 87.30 L128.18 88.70 L129.37 90.10 L131.16 91.50 L133.52 92.90 L136.70 94.30 L140.78 95.70 L145.36 97.10 L150.70 98.50 A40.00 8.00 0 0 1 70.70 98.50 L70.70 98.50 L76.04 97.10 L80.62 95.70 L84.70 94.30 L87.88 92.90 L90.24 91.50 L92.03 90.10 L93.22 88.70 L94.17 87.30 L94.94 85.90 L95.53 84.50 L95.97 83.10 L96.32 81.70 L96.61 80.30 L96.87 78.90 L97.11 77.50 L97.35 76.10 L97.62 74.70 L97.90 73.30 L98.18 71.90 L98.45 70.50 L98.72 69.10 L99.00 67.70 L99.27 66.30 L99.53 64.90 L99.80 63.50 L100.07 62.10 L100.33 60.70 L100.59 59.30 L100.85 57.90 L101.11 56.50 L101.38 55.10 L101.64 53.70 L101.90 52.30 L102.16 50.90 L102.42 49.50 L102.69 48.10 L102.96 46.70 L103.23 45.30 L103.50 43.90 L103.77 42.50 L104.04 41.10 L104.32 39.70 L104.59 38.30 L104.87 36.90 L105.14 35.50 L105.41 34.10 L105.69 32.70 L105.96 31.30 L106.23 29.90 L106.50 28.50 L106.75 27.10 L106.98 25.70 L107.22 24.30 L107.48 22.90 L107.80 21.50 L108.18 20.10 L108.66 18.70 L109.34 17.30 L110.70 15.90Z" fill="url(#gA3)"/></g>
<text x="124.48" y="54.45" font-size="10.2" textLength="29.86" lengthAdjust="spacingAndGlyphs" stroke="#1a1a1a" stroke-width="0.12">Ligand</text>
<text x="124.65" y="68.00" font-size="10.2" textLength="52.15" lengthAdjust="spacingAndGlyphs" stroke="#1a1a1a" stroke-width="0.12">distribution</text>
<text x="14.46" y="129.70" font-size="10.2" textLength="35.20" lengthAdjust="spacingAndGlyphs" stroke="#1a1a1a" stroke-width="0.12">Inactive</text>
<text x="17.87" y="143.50" font-size="10.2" textLength="28.73" lengthAdjust="spacingAndGlyphs" stroke="#1a1a1a" stroke-width="0.12">GPCRs</text>
<text x="102.56" y="167.20" font-size="9.2" textLength="17.67" lengthAdjust="spacingAndGlyphs" stroke="#1a1a1a" stroke-width="0.12">t=0s</text>
<rect x="177.2" y="116.8" width="6.1" height="32.0" fill="#0a0a84"/>
<text x="186.40" y="137.21" font-size="8.2" textLength="11.60" lengthAdjust="spacingAndGlyphs" stroke="#1a1a1a" stroke-width="0.22">0.2</text>
<text x="80.88" y="195.50" font-size="10.2" textLength="27.77" lengthAdjust="spacingAndGlyphs" stroke="#1a1a1a" stroke-width="0.12">Active</text>
<text x="111.37" y="195.50" font-size="10.2" textLength="28.84" lengthAdjust="spacingAndGlyphs" stroke="#1a1a1a" stroke-width="0.12">GPCRs</text>
<ellipse cx="110.6" cy="284.9" rx="53.8" ry="29.2" fill="#15157c"/>
<ellipse cx="110.8" cy="283.2" rx="31" ry="11.5" fill="url(#gB1)" filter="url(#bl2)"/>
<g mask="url(#mkB)"><path d="M111.10 202.30 L112.48 203.64 L113.31 204.98 L113.88 206.33 L114.30 207.67 L114.65 209.01 L114.95 210.35 L115.23 211.70 L115.50 213.04 L115.79 214.38 L116.06 215.72 L116.33 217.07 L116.58 218.41 L116.83 219.75 L117.08 221.09 L117.33 222.44 L117.58 223.78 L117.83 225.12 L118.08 226.46 L118.32 227.81 L118.57 229.15 L118.82 230.49 L119.07 231.83 L119.32 233.17 L119.58 234.52 L119.84 235.86 L120.10 237.20 L120.36 238.54 L120.62 239.89 L120.89 241.23 L121.15 242.57 L121.43 243.91 L121.70 245.26 L121.98 246.60 L122.25 247.94 L122.53 249.28 L122.81 250.63 L123.08 251.97 L123.34 253.31 L123.61 254.65 L123.88 255.99 L124.16 257.34 L124.45 258.68 L124.75 260.02 L125.06 261.36 L125.36 262.71 L125.68 264.05 L126.02 265.39 L126.39 266.73 L126.79 268.08 L127.25 269.42 L127.77 270.76 L128.38 272.10 L129.09 273.45 L129.93 274.79 L131.03 276.13 L132.41 277.47 L133.99 278.82 L135.89 280.16 L138.10 281.50 A27.00 8.00 0 0 1 84.10 281.50 L84.10 281.50 L86.31 280.16 L88.21 278.82 L89.79 277.47 L91.17 276.13 L92.27 274.79 L93.11 273.45 L93.82 272.10 L94.43 270.76 L94.95 269.42 L95.41 268.08 L95.81 266.73 L96.18 265.39 L96.52 264.05 L96.84 262.71 L97.14 261.36 L97.45 260.02 L97.75 258.68 L98.04 257.34 L98.32 255.99 L98.59 254.65 L98.86 253.31 L99.12 251.97 L99.39 250.63 L99.67 249.28 L99.95 247.94 L100.22 246.60 L100.50 245.26 L100.77 243.91 L101.05 242.57 L101.31 241.23 L101.58 239.89 L101.84 238.54 L102.10 237.20 L102.36 235.86 L102.62 234.52 L102.88 233.17 L103.13 231.83 L103.38 230.49 L103.63 229.15 L103.88 227.81 L104.12 226.46 L104.37 225.12 L104.62 223.78 L104.87 222.44 L105.12 221.09 L105.37 219.75 L105.62 218.41 L105.87 217.07 L106.14 215.72 L106.41 214.38 L106.70 213.04 L106.97 211.70 L107.25 210.35 L107.55 209.01 L107.90 207.67 L108.32 206.33 L108.89 204.98 L109.72 203.64 L111.10 202.30Z" fill="url(#gB2)"/><path d="M111.10 202.30 L112.48 203.64 L113.31 204.98 L113.88 206.33 L114.30 207.67 L114.65 209.01 L114.95 210.35 L115.23 211.70 L115.50 213.04 L115.79 214.38 L116.06 215.72 L116.33 217.07 L116.58 218.41 L116.83 219.75 L117.08 221.09 L117.33 222.44 L117.58 223.78 L117.83 225.12 L118.08 226.46 L118.32 227.81 L118.57 229.15 L118.82 230.49 L119.07 231.83 L119.32 233.17 L119.58 234.52 L119.84 235.86 L120.10 237.20 L120.36 238.54 L120.62 239.89 L120.89 241.23 L121.15 242.57 L121.43 243.91 L121.70 245.26 L121.98 246.60 L122.25 247.94 L122.53 249.28 L122.81 250.63 L123.08 251.97 L123.34 253.31 L123.61 254.65 L123.88 255.99 L124.16 257.34 L124.45 258.68 L124.75 260.02 L125.06 261.36 L125.36 262.71 L125.68 264.05 L126.02 265.39 L126.39 266.73 L126.79 268.08 L127.25 269.42 L127.77 270.76 L128.38 272.10 L129.09 273.45 L129.93 274.79 L131.03 276.13 L132.41 277.47 L133.99 278.82 L135.89 280.16 L138.10 281.50 A27.00 8.00 0 0 1 84.10 281.50 L84.10 281.50 L86.31 280.16 L88.21 278.82 L89.79 277.47 L91.17 276.13 L92.27 274.79 L93.11 273.45 L93.82 272.10 L94.43 270.76 L94.95 269.42 L95.41 268.08 L95.81 266.73 L96.18 265.39 L96.52 264.05 L96.84 262.71 L97.14 261.36 L97.45 260.02 L97.75 258.68 L98.04 257.34 L98.32 255.99 L98.59 254.65 L98.86 253.31 L99.12 251.97 L99.39 250.63 L99.67 249.28 L99.95 247.94 L100.22 246.60 L100.50 245.26 L100.77 243.91 L101.05 242.57 L101.31 241.23 L101.58 239.89 L101.84 238.54 L102.10 237.20 L102.36 235.86 L102.62 234.52 L102.88 233.17 L103.13 231.83 L103.38 230.49 L103.63 229.15 L103.88 227.81 L104.12 226.46 L104.37 225.12 L104.62 223.78 L104.87 222.44 L105.12 221.09 L105.37 219.75 L105.62 218.41 L105.87 217.07 L106.14 215.72 L106.41 214.38 L106.70 213.04 L106.97 211.70 L107.25 210.35 L107.55 209.01 L107.90 207.67 L108.32 206.33 L108.89 204.98 L109.72 203.64 L111.10 202.30Z" fill="url(#gB3)"/></g>
<text x="98.16" y="325.40" font-size="9.2" textLength="27.46" lengthAdjust="spacingAndGlyphs" stroke="#1a1a1a" stroke-width="0.12">t=450s</text>
<rect x="178.00" y="207.00" width="4.00" height="107.40" fill="url(#gJet)"/>
<text x="184.80" y="210.88" font-size="8.4" stroke="#1a1a1a" stroke-width="0.22">0.9</text>
<text x="184.80" y="224.40" font-size="8.4" stroke="#1a1a1a" stroke-width="0.22">0.8</text>
<text x="184.80" y="237.92" font-size="8.4" stroke="#1a1a1a" stroke-width="0.22">0.7</text>
<text x="184.80" y="251.44" font-size="8.4" stroke="#1a1a1a" stroke-width="0.22">0.6</text>
<text x="184.80" y="264.96" font-size="8.4" stroke="#1a1a1a" stroke-width="0.22">0.5</text>
<text x="184.80" y="278.48" font-size="8.4" stroke="#1a1a1a" stroke-width="0.22">0.4</text>
<text x="184.80" y="292.00" font-size="8.4" stroke="#1a1a1a" stroke-width="0.22">0.3</text>
<text x="184.80" y="305.52" font-size="8.4" stroke="#1a1a1a" stroke-width="0.22">0.2</text>
<path d="M180.6 207.90h1.4M180.6 221.42h1.4M180.6 234.94h1.4M180.6 248.46h1.4M180.6 261.98h1.4M180.6 275.50h1.4M180.6 289.02h1.4M180.6 302.54h1.4" stroke="#333" stroke-width="0.5"/>
<path d="M21.60 299.30l-5.70 -3.70" stroke="#3cab3c" stroke-width="1.0"/>
<path d="M21.60 299.30l8.00 -3.20" stroke="#e0246e" stroke-width="1.0"/>
<path d="M26.56 296.42L30.20 295.90L27.04 298.12Z" fill="#e0246e"/>
<path d="M18.96 296.37L15.40 295.30L17.67 297.91Z" fill="#3cab3c"/>
<path d="M21.60 299.30v-7.90" stroke="#3f82d0" stroke-width="0.9"/>
<path d="M20.60 293.00L21.60 290.50L22.60 293.00Z" fill="#3f82d0"/>
<text x="19.28" y="289.90" font-size="10.4" stroke="#1a1a1a" stroke-width="0.15">z</text>
<text x="10.17" y="294.90" font-size="10.4" stroke="#1a1a1a" stroke-width="0.15">y</text>
<text x="31.38" y="297.40" font-size="10.4" stroke="#1a1a1a" stroke-width="0.15">x</text>
<rect x="281.6" y="221.1" width="136.2" height="83.2" fill="#fff" stroke="#f06a6a" stroke-width="0.9" stroke-dasharray="1.9 1.5"/>
<path d="M314.1 269.3 C322 266.5 330 263.6 335.5 261.6 L359.3 255.3 C364 253.4 369 251.4 374.1 249.4 C381 250.6 389 254.4 392.8 259.6 C393.4 261.0 392.8 262.4 391.9 263.4 C378 268.6 363 271.2 351.9 271.6 C337 272.2 323 271.6 314.1 269.3Z" fill="url(#gD1)"/>
<clipPath id="cD"><path d="M314.1 269.3 C322 266.5 330 263.6 335.5 261.6 L359.3 255.3 C364 253.4 369 251.4 374.1 249.4 C381 250.6 389 254.4 392.8 259.6 C393.4 261.0 392.8 262.4 391.9 263.4 C378 268.6 363 271.2 351.9 271.6 C337 272.2 323 271.6 314.1 269.3Z"/></clipPath>
<g clip-path="url(#cD)"><ellipse cx="351" cy="259.2" rx="19" ry="6.2" fill="url(#gD2)"/></g>
<g mask="url(#mkD)"><path d="M345.9 229.9 C347.6 229.9 348.6 232.6 349.6 236.0 C350.6 239.4 351.4 241.8 352.4 244.2 C353.6 247.2 354.6 249.6 355.8 251.6 C356.9 253.4 358.0 254.6 359.6 255.4 C358 259.5 352 262.6 345 263.0 C340 263.2 336 262.4 334.0 261.4 C335.6 259.8 336.6 257.2 337.6 254.6 C338.7 251.8 339.5 248.8 340.3 245.7 C341.2 242.2 341.9 239.4 342.7 236.4 C343.5 233.0 344.2 229.9 345.9 229.9Z" fill="url(#gD3)"/><path d="M345.9 229.9 C347.6 229.9 348.6 232.6 349.6 236.0 C350.6 239.4 351.4 241.8 352.4 244.2 C353.6 247.2 354.6 249.6 355.8 251.6 C356.9 253.4 358.0 254.6 359.6 255.4 C358 259.5 352 262.6 345 263.0 C340 263.2 336 262.4 334.0 261.4 C335.6 259.8 336.6 257.2 337.6 254.6 C338.7 251.8 339.5 248.8 340.3 245.7 C341.2 242.2 341.9 239.4 342.7 236.4 C343.5 233.0 344.2 229.9 345.9 229.9Z" fill="url(#gD4)"/></g>
<path d="M383.91 273.40 L385.92 274.29 L387.69 275.25 L389.21 276.26 L390.47 277.33 L391.46 278.43 L392.17 279.58 L392.60 280.75 L392.75 281.94 L392.61 283.15 L392.19 284.36 L391.49 285.57 L390.51 286.77 L389.27 287.95 L387.76 289.11 L386.00 290.23 L384.00 291.31 L381.77 292.35 L379.33 293.33 L376.69 294.25 L373.87 295.11 L370.89 295.89 L367.76 296.59 L364.52 297.22 L361.17 297.75 L357.74 298.20 L354.26 298.56 L350.74 298.82 L347.21 298.99 L343.69 299.05 L340.20 299.02 L336.77 298.90 L333.42 298.68 L330.17 298.36 L327.04 297.95 L324.05 297.44 L321.23 296.85 L318.58 296.18 L316.13 295.43 L313.89 294.60" fill="none" stroke="#222" stroke-width="0.55"/>
<path d="M362.18 278.95 L363.50 279.27 L364.72 279.64 L365.83 280.04 L366.81 280.48 L367.67 280.95 L368.39 281.45 L368.98 281.98 L369.42 282.52 L369.71 283.08 L369.86 283.66 L369.85 284.24 L369.70 284.83 L369.39 285.42 L368.94 286.01 L368.35 286.59 L367.62 287.15 L366.75 287.70 L365.76 288.23 L364.64 288.73 L363.41 289.21 L362.08 289.66 L360.66 290.07 L359.15 290.44 L357.57 290.78 L355.93 291.07 L354.24 291.32 L352.51 291.52 L350.76 291.67 L348.99 291.78 L347.23 291.83 L345.48 291.84 L343.76 291.79 L342.07 291.70 L340.44 291.55 L338.86 291.36 L337.36 291.12 L335.95 290.83 L334.63 290.51 L333.42 290.14M360.16 279.86 L361.28 280.14 L362.32 280.45 L363.25 280.79 L364.09 281.16 L364.81 281.56 L365.43 281.98 L365.92 282.43 L366.29 282.89 L366.54 283.36 L366.66 283.85 L366.66 284.34 L366.53 284.84 L366.27 285.34 L365.89 285.84 L365.39 286.33 L364.77 286.80 L364.04 287.27 L363.19 287.72 L362.25 288.14 L361.21 288.55 L360.09 288.93 L358.88 289.27 L357.61 289.59 L356.27 289.87 L354.88 290.12 L353.45 290.33 L351.99 290.50 L350.50 290.63 L349.01 290.72 L347.52 290.77 L346.04 290.77 L344.58 290.73 L343.15 290.65 L341.77 290.53 L340.44 290.36 L339.17 290.16 L337.97 289.92 L336.86 289.64 L335.83 289.33M358.91 280.44 L359.90 280.68 L360.81 280.95 L361.64 281.26 L362.38 281.59 L363.03 281.94 L363.57 282.31 L364.01 282.71 L364.34 283.12 L364.56 283.54 L364.67 283.97 L364.66 284.41 L364.55 284.85 L364.32 285.29 L363.98 285.73 L363.54 286.16 L362.99 286.59 L362.34 287.00 L361.59 287.40 L360.76 287.78 L359.84 288.13 L358.84 288.47 L357.77 288.78 L356.64 289.06 L355.45 289.31 L354.22 289.53 L352.95 289.71 L351.66 289.86 L350.34 289.98 L349.02 290.06 L347.70 290.10 L346.39 290.10 L345.09 290.07 L343.83 290.00 L342.60 289.89 L341.42 289.74 L340.30 289.56 L339.24 289.35 L338.25 289.11 L337.34 288.83M357.90 280.89 L358.79 281.11 L359.61 281.36 L360.36 281.63 L361.02 281.93 L361.60 282.24 L362.09 282.58 L362.48 282.93 L362.78 283.30 L362.97 283.68 L363.07 284.06 L363.07 284.46 L362.96 284.85 L362.76 285.25 L362.46 285.65 L362.06 286.03 L361.56 286.42 L360.98 286.78 L360.31 287.14 L359.56 287.48 L358.73 287.80 L357.84 288.10 L356.88 288.38 L355.87 288.63 L354.80 288.86 L353.70 289.05 L352.56 289.22 L351.40 289.36 L350.22 289.46 L349.03 289.53 L347.84 289.57 L346.66 289.57 L345.50 289.54 L344.37 289.47 L343.27 289.38 L342.21 289.25 L341.20 289.09 L340.25 288.89 L339.36 288.67 L338.55 288.43M357.15 281.24 L357.96 281.44 L358.71 281.66 L359.39 281.91 L360.00 282.18 L360.53 282.47 L360.97 282.78 L361.33 283.10 L361.60 283.44 L361.79 283.78 L361.87 284.14 L361.87 284.50 L361.78 284.86 L361.59 285.22 L361.31 285.58 L360.95 285.94 L360.50 286.29 L359.96 286.62 L359.35 286.95 L358.66 287.26 L357.91 287.55 L357.09 287.83 L356.21 288.08 L355.29 288.31 L354.31 288.52 L353.30 288.70 L352.26 288.85 L351.20 288.97 L350.12 289.07 L349.04 289.13 L347.95 289.17 L346.87 289.17 L345.81 289.14 L344.77 289.08 L343.77 288.99 L342.80 288.87 L341.88 288.73 L341.01 288.55 L340.20 288.35 L339.45 288.12M356.52 281.52 L357.27 281.71 L357.96 281.92 L358.59 282.14 L359.15 282.39 L359.64 282.66 L360.05 282.94 L360.38 283.24 L360.63 283.55 L360.79 283.87 L360.88 284.20 L360.87 284.53 L360.79 284.86 L360.61 285.20 L360.36 285.53 L360.02 285.86 L359.60 286.18 L359.11 286.49 L358.55 286.79 L357.92 287.08 L357.22 287.35 L356.47 287.60 L355.66 287.83 L354.80 288.05 L353.91 288.24 L352.98 288.40 L352.02 288.54 L351.04 288.66 L350.04 288.74 L349.04 288.80 L348.04 288.83 L347.05 288.83 L346.07 288.81 L345.11 288.75 L344.18 288.67 L343.29 288.56 L342.44 288.43 L341.64 288.27 L340.89 288.08 L340.20 287.87" fill="none" stroke="#222" stroke-width="0.4"/>
<path d="M355.87 282.06 L356.59 282.26 L357.25 282.48 L357.86 282.72 L358.40 282.98 L358.87 283.24 L359.27 283.52 L359.59 283.82 L359.83 284.11 L360.00 284.42 L360.09 284.73 L360.09 285.04 L360.02 285.34 L359.86 285.65 L359.62 285.95 L359.31 286.24 L358.92 286.52 L358.46 286.79 L357.93 287.05 L357.33 287.29 L356.68 287.51 L355.96 287.71 L355.20 287.90 L354.39 288.06 L353.55 288.19 L352.67 288.31 L351.76 288.39 L350.84 288.45 L349.90 288.49 L348.95 288.50 L348.01 288.48 L347.07 288.44 L346.15 288.37 L345.25 288.27 L344.38 288.15 L343.55 288.01 L342.75 287.84 L342.01 287.65 L341.31 287.44 L340.67 287.21Z" fill="#111"/>
<path d="M349.53 282.12 L349.80 282.15 L350.05 282.19 L350.29 282.24 L350.52 282.30 L350.74 282.37 L350.93 282.45 L351.11 282.53 L351.26 282.62 L351.40 282.72 L351.50 282.82 L351.59 282.93 L351.65 283.04 L351.69 283.16 L351.70 283.27 L351.68 283.39 L351.64 283.51 L351.57 283.62 L351.48 283.74 L351.37 283.85 L351.23 283.96 L351.07 284.06 L350.89 284.16 L350.69 284.25 L350.47 284.34 L350.24 284.42 L349.99 284.48 L349.74 284.55 L349.47 284.60 L349.19 284.64 L348.91 284.67 L348.63 284.70 L348.34 284.71 L348.05 284.71 L347.77 284.70 L347.50 284.68 L347.23 284.65 L346.97 284.61 L346.73 284.56 L346.50 284.50" fill="none" stroke="#fff" stroke-width="0.7"/>
<rect x="399.4" y="222.3" width="3.6" height="79.8" fill="url(#gTh)" stroke="#9a9a9a" stroke-width="0.45"/>
<text x="404.70" y="230.09" font-size="5.6" stroke="#1a1a1a" stroke-width="0.1">1.5</text>
<text x="404.70" y="237.47" font-size="5.6" stroke="#1a1a1a" stroke-width="0.1">1.45</text>
<text x="404.70" y="244.85" font-size="5.6" stroke="#1a1a1a" stroke-width="0.1">1.4</text>
<text x="404.70" y="252.23" font-size="5.6" stroke="#1a1a1a" stroke-width="0.1">1.35</text>
<text x="404.70" y="259.61" font-size="5.6" stroke="#1a1a1a" stroke-width="0.1">1.3</text>
<text x="404.70" y="266.99" font-size="5.6" stroke="#1a1a1a" stroke-width="0.1">1.25</text>
<text x="404.70" y="274.37" font-size="5.6" stroke="#1a1a1a" stroke-width="0.1">1.2</text>
<text x="404.70" y="281.75" font-size="5.6" stroke="#1a1a1a" stroke-width="0.1">1.15</text>
<text x="404.70" y="289.13" font-size="5.6" stroke="#1a1a1a" stroke-width="0.1">1.1</text>
<text x="404.70" y="296.51" font-size="5.6" stroke="#1a1a1a" stroke-width="0.1">1.05</text>
<text x="404.70" y="303.89" font-size="5.6" stroke="#1a1a1a" stroke-width="0.1">1</text>
<path d="M298.5 269.4V260.4" stroke="#3f82d0" stroke-width="0.8"/>
<path d="M297.5 261.2L298.5 258.59999999999997L299.5 261.2Z" fill="#3f82d0"/>
<path d="M298.5 269.4L290.3 267.2" stroke="#e0246e" stroke-width="1.0"/>
<path d="M298.5 269.4L292.1 271.29999999999995" stroke="#3cab3c" stroke-width="1.0"/>
<text x="296.90" y="256.90" font-size="9.0" stroke="#1a1a1a" stroke-width="0.22">z</text>
<text x="284.20" y="268.70" font-size="9.0" stroke="#1a1a1a" stroke-width="0.22">x</text>
<text x="286.60" y="274.00" font-size="9.0" stroke="#1a1a1a" stroke-width="0.22">y</text>
<text x="463.64" y="232.70" font-size="7.7" textLength="36.18" lengthAdjust="spacingAndGlyphs" stroke="#1a1a1a" stroke-width="0.15">Transverse</text>
<text x="501.58" y="232.70" font-size="7.7" textLength="24.15" lengthAdjust="spacingAndGlyphs" stroke="#1a1a1a" stroke-width="0.15">stretch</text>
<text x="463.28" y="316.60" font-size="7.7" textLength="20.96" lengthAdjust="spacingAndGlyphs" stroke="#1a1a1a" stroke-width="0.15">Active</text>
<text x="486.66" y="316.60" font-size="7.7" textLength="22.58" lengthAdjust="spacingAndGlyphs" stroke="#1a1a1a" stroke-width="0.15">GPCRs</text>
<ellipse cx="535.7" cy="272.9" rx="50" ry="27.7" fill="url(#gF1)"/>
<ellipse cx="536.8" cy="272.2" rx="31" ry="12.5" fill="url(#gF2)" filter="url(#bl3)"/>
<ellipse cx="521.5" cy="262.6" rx="6.5" ry="2.2" fill="#d2f6fc" filter="url(#bl4)" opacity="0.9"/>
<ellipse cx="536.6" cy="270.0" rx="11.5" ry="4.8" fill="#46a0de" filter="url(#bl4)" opacity="0.9"/>
<g mask="url(#mkF)"><path d="M536.20 240.90 L537.26 241.46 L537.63 242.02 L537.89 242.58 L538.16 243.14 L538.41 243.71 L538.64 244.27 L538.87 244.83 L539.11 245.39 L539.36 245.95 L539.61 246.51 L539.85 247.07 L540.10 247.63 L540.34 248.19 L540.58 248.75 L540.81 249.32 L541.03 249.88 L541.25 250.44 L541.46 251.00 L541.67 251.56 L541.88 252.12 L542.09 252.68 L542.29 253.24 L542.50 253.80 L542.71 254.36 L542.92 254.93 L543.12 255.49 L543.33 256.05 L543.53 256.61 L543.73 257.17 L543.93 257.73 L544.13 258.29 L544.33 258.85 L544.53 259.41 L544.73 259.97 L544.93 260.54 L545.12 261.10 L545.30 261.66 L545.48 262.22 L545.65 262.78 L545.82 263.34 L545.98 263.90 L546.14 264.46 L546.29 265.02 L546.44 265.58 L546.58 266.15 L546.71 266.71 L546.84 267.27 L546.96 267.83 L547.08 268.39 L547.19 268.95 L547.30 269.51 L547.40 270.07 L547.49 270.63 L547.56 271.19 L547.63 271.76 L547.68 272.32 L547.73 272.88 L547.77 273.44 L547.80 274.00 A11.60 3.80 0 0 1 524.60 274.00 L524.60 274.00 L524.63 273.44 L524.67 272.88 L524.72 272.32 L524.77 271.76 L524.84 271.19 L524.91 270.63 L525.00 270.07 L525.10 269.51 L525.21 268.95 L525.32 268.39 L525.44 267.83 L525.56 267.27 L525.69 266.71 L525.82 266.15 L525.96 265.58 L526.11 265.02 L526.26 264.46 L526.42 263.90 L526.58 263.34 L526.75 262.78 L526.92 262.22 L527.10 261.66 L527.28 261.10 L527.47 260.54 L527.67 259.97 L527.87 259.41 L528.07 258.85 L528.27 258.29 L528.47 257.73 L528.67 257.17 L528.87 256.61 L529.07 256.05 L529.28 255.49 L529.48 254.93 L529.69 254.36 L529.90 253.80 L530.11 253.24 L530.31 252.68 L530.52 252.12 L530.73 251.56 L530.94 251.00 L531.15 250.44 L531.37 249.88 L531.59 249.32 L531.82 248.75 L532.06 248.19 L532.30 247.63 L532.55 247.07 L532.79 246.51 L533.04 245.95 L533.29 245.39 L533.53 244.83 L533.76 244.27 L533.99 243.71 L534.24 243.14 L534.51 242.58 L534.77 242.02 L535.14 241.46 L536.20 240.90Z" fill="url(#gF3)"/><path d="M536.20 240.90 L537.26 241.46 L537.63 242.02 L537.89 242.58 L538.16 243.14 L538.41 243.71 L538.64 244.27 L538.87 244.83 L539.11 245.39 L539.36 245.95 L539.61 246.51 L539.85 247.07 L540.10 247.63 L540.34 248.19 L540.58 248.75 L540.81 249.32 L541.03 249.88 L541.25 250.44 L541.46 251.00 L541.67 251.56 L541.88 252.12 L542.09 252.68 L542.29 253.24 L542.50 253.80 L542.71 254.36 L542.92 254.93 L543.12 255.49 L543.33 256.05 L543.53 256.61 L543.73 257.17 L543.93 257.73 L544.13 258.29 L544.33 258.85 L544.53 259.41 L544.73 259.97 L544.93 260.54 L545.12 261.10 L545.30 261.66 L545.48 262.22 L545.65 262.78 L545.82 263.34 L545.98 263.90 L546.14 264.46 L546.29 265.02 L546.44 265.58 L546.58 266.15 L546.71 266.71 L546.84 267.27 L546.96 267.83 L547.08 268.39 L547.19 268.95 L547.30 269.51 L547.40 270.07 L547.49 270.63 L547.56 271.19 L547.63 271.76 L547.68 272.32 L547.73 272.88 L547.77 273.44 L547.80 274.00 A11.60 3.80 0 0 1 524.60 274.00 L524.60 274.00 L524.63 273.44 L524.67 272.88 L524.72 272.32 L524.77 271.76 L524.84 271.19 L524.91 270.63 L525.00 270.07 L525.10 269.51 L525.21 268.95 L525.32 268.39 L525.44 267.83 L525.56 267.27 L525.69 266.71 L525.82 266.15 L525.96 265.58 L526.11 265.02 L526.26 264.46 L526.42 263.90 L526.58 263.34 L526.75 262.78 L526.92 262.22 L527.10 261.66 L527.28 261.10 L527.47 260.54 L527.67 259.97 L527.87 259.41 L528.07 258.85 L528.27 258.29 L528.47 257.73 L528.67 257.17 L528.87 256.61 L529.07 256.05 L529.28 255.49 L529.48 254.93 L529.69 254.36 L529.90 253.80 L530.11 253.24 L530.31 252.68 L530.52 252.12 L530.73 251.56 L530.94 251.00 L531.15 250.44 L531.37 249.88 L531.59 249.32 L531.82 248.75 L532.06 248.19 L532.30 247.63 L532.55 247.07 L532.79 246.51 L533.04 245.95 L533.29 245.39 L533.53 244.83 L533.76 244.27 L533.99 243.71 L534.24 243.14 L534.51 242.58 L534.77 242.02 L535.14 241.46 L536.20 240.90Z" fill="url(#gF4)"/></g>
<ellipse cx="535.8" cy="352.3" rx="48" ry="30.4" fill="#14146e"/>
<clipPath id="cF"><ellipse cx="535.8" cy="352.3" rx="48" ry="30.4"/></clipPath>
<g clip-path="url(#cF)"><ellipse cx="536" cy="350.8" rx="29.5" ry="19.5" fill="url(#gF5)"/></g>
<text x="524.08" y="393.40" font-size="7.6" textLength="23.09" lengthAdjust="spacingAndGlyphs" stroke="#1a1a1a" stroke-width="0.15">t=450s</text>
<path d="M478.50 388.50l-5.40 -3.90" stroke="#3cab3c" stroke-width="1.0"/>
<path d="M478.50 388.50l8.50 -3.20" stroke="#e0246e" stroke-width="1.0"/>
<path d="M483.77 385.62L487.60 385.10L484.28 387.32Z" fill="#e0246e"/>
<path d="M476.03 385.46L472.60 384.30L474.75 386.98Z" fill="#3cab3c"/>
<path d="M478.50 388.50v-8.00" stroke="#3f82d0" stroke-width="0.9"/>
<path d="M477.50 382.10L478.50 379.60L479.50 382.10Z" fill="#3f82d0"/>
<text x="476.90" y="378.00" font-size="7.4" stroke="#1a1a1a" stroke-width="0.15">z</text>
<text x="468.48" y="383.90" font-size="7.4" stroke="#1a1a1a" stroke-width="0.15">y</text>
<text x="487.92" y="385.80" font-size="7.4" stroke="#1a1a1a" stroke-width="0.15">x</text>
<rect x="599.50" y="236.30" width="5.30" height="138.30" fill="url(#gJet2)"/>
<text x="607.30" y="241.62" font-size="8.5" textLength="10.40" lengthAdjust="spacingAndGlyphs" stroke="#1a1a1a" stroke-width="0.22">0.9</text>
<text x="607.30" y="259.02" font-size="8.5" textLength="10.40" lengthAdjust="spacingAndGlyphs" stroke="#1a1a1a" stroke-width="0.22">0.8</text>
<text x="607.30" y="276.42" font-size="8.5" textLength="10.40" lengthAdjust="spacingAndGlyphs" stroke="#1a1a1a" stroke-width="0.22">0.7</text>
<text x="607.30" y="293.82" font-size="8.5" textLength="10.40" lengthAdjust="spacingAndGlyphs" stroke="#1a1a1a" stroke-width="0.22">0.6</text>
<text x="607.30" y="311.22" font-size="8.5" textLength="10.40" lengthAdjust="spacingAndGlyphs" stroke="#1a1a1a" stroke-width="0.22">0.5</text>
<text x="607.30" y="328.62" font-size="8.5" textLength="10.40" lengthAdjust="spacingAndGlyphs" stroke="#1a1a1a" stroke-width="0.22">0.4</text>
<text x="607.30" y="346.02" font-size="8.5" textLength="10.40" lengthAdjust="spacingAndGlyphs" stroke="#1a1a1a" stroke-width="0.22">0.3</text>
<text x="607.30" y="363.42" font-size="8.5" textLength="10.40" lengthAdjust="spacingAndGlyphs" stroke="#1a1a1a" stroke-width="0.22">0.2</text>
<path d="M603.2 238.60h1.6M603.2 256.00h1.6M603.2 273.40h1.6M603.2 290.80h1.6M603.2 308.20h1.6M603.2 325.60h1.6M603.2 343.00h1.6M603.2 360.40h1.6" stroke="#333" stroke-width="0.5"/>
<rect x="643.4" y="236.4" width="5.0" height="138.7" fill="url(#gTh)" stroke="#a0a0a0" stroke-width="0.6"/>
<text x="651.40" y="251.72" font-size="8.5" textLength="10.16" lengthAdjust="spacingAndGlyphs" stroke="#1a1a1a" stroke-width="0.22">1.4</text>
<text x="651.40" y="266.91" font-size="8.5" textLength="14.23" lengthAdjust="spacingAndGlyphs" stroke="#1a1a1a" stroke-width="0.22">1.35</text>
<text x="651.40" y="282.10" font-size="8.5" textLength="10.16" lengthAdjust="spacingAndGlyphs" stroke="#1a1a1a" stroke-width="0.22">1.3</text>
<text x="651.40" y="297.29" font-size="8.5" textLength="14.23" lengthAdjust="spacingAndGlyphs" stroke="#1a1a1a" stroke-width="0.22">1.25</text>
<text x="651.40" y="312.48" font-size="8.5" textLength="10.16" lengthAdjust="spacingAndGlyphs" stroke="#1a1a1a" stroke-width="0.22">1.2</text>
<text x="651.40" y="327.67" font-size="8.5" textLength="14.23" lengthAdjust="spacingAndGlyphs" stroke="#1a1a1a" stroke-width="0.22">1.15</text>
<text x="651.40" y="342.86" font-size="8.5" textLength="10.16" lengthAdjust="spacingAndGlyphs" stroke="#1a1a1a" stroke-width="0.22">1.1</text>
<text x="651.40" y="358.05" font-size="8.5" textLength="14.23" lengthAdjust="spacingAndGlyphs" stroke="#1a1a1a" stroke-width="0.22">1.05</text>
<text x="651.40" y="373.24" font-size="8.5" textLength="4.07" lengthAdjust="spacingAndGlyphs" stroke="#1a1a1a" stroke-width="0.22">1</text>
<path d="M646.8 248.70h1.6M646.8 263.89h1.6M646.8 279.08h1.6M646.8 294.27h1.6M646.8 309.46h1.6M646.8 324.65h1.6M646.8 339.84h1.6M646.8 355.03h1.6M646.8 370.22h1.6" stroke="#333" stroke-width="0.5"/>
<text x="622.2" y="234.9" font-size="11.6" font-style="italic" class="s" stroke="#1a1a1a" stroke-width="0.2">n<tspan font-size="7.6" dy="2.0">i</tspan></text>
<text x="650.97" y="235.90" font-size="9.7" textLength="7.35" lengthAdjust="spacingAndGlyphs" stroke="#1a1a1a" stroke-width="0.1">Ø</text>
<text x="658.18" y="235.00" font-size="9.4" textLength="13.03" lengthAdjust="spacingAndGlyphs" stroke="#1a1a1a" stroke-width="0.1">[−]</text>
<path d="M485 396.9 C488.5 405 493.5 414.5 498.9 422.8 C501 425.6 503.4 427.6 505.6 428.9 L512.8 423.9 L507.8 442.8 L489.1 438.3 L493.9 435 C489.6 428.4 487.3 421.6 486.6 417.8 C485.3 411.5 484.8 404 485 396.9Z" fill="#d9e2f3"/>
<path d="M571.0 418.6A54.4 54.4 0 0 0 571.0 527.4Z" fill="url(#gF6)"/>
<path d="M571.0 418.6A54.4 54.4 0 0 1 571.0 527.4Z" fill="#1c1c84"/>
<clipPath id="cFl"><rect x="516.6" y="418.6" width="54.4" height="108.8"/></clipPath>
<clipPath id="cFr"><rect x="571.0" y="418.6" width="54.4" height="108.8"/></clipPath>
<g clip-path="url(#cFl)"><ellipse cx="563.0" cy="463.5" rx="10" ry="8" fill="#6f8f97" opacity="0.6" filter="url(#bl3)" transform="rotate(-40 563.0 463.5)"/><ellipse cx="560.0" cy="483.5" rx="12" ry="8" fill="#ffffff" opacity="0.85" filter="url(#bl3)" transform="rotate(40 560.0 483.5)"/><circle cx="571.0" cy="472.5" r="14.5" fill="url(#gF7)"/></g>
<g clip-path="url(#cFr)"><circle cx="571.0" cy="472.5" r="27.5" fill="url(#gF8)"/></g>
<text x="486.50" y="528.30" font-size="8.4" stroke="#1a1a1a" stroke-width="0.15">z</text>
<path d="M488.2 526.3V519.6999999999999" stroke="#3cab3c" stroke-width="0.9"/>
<path d="M487.3 520.5L488.2 518.3L489.09999999999997 520.5Z" fill="#3cab3c"/>
<path d="M488.2 526.3H495.2" stroke="#e0246e" stroke-width="0.9"/>
<path d="M494.2 525.4L496.59999999999997 526.3L494.2 527.1999999999999Z" fill="#e0246e"/>
<circle cx="488.2" cy="526.3" r="0.8" fill="#3f82d0"/>
<text x="485.90" y="515.00" font-size="8.6" stroke="#1a1a1a" stroke-width="0.15">y</text>
<text x="498.60" y="528.20" font-size="8.4" stroke="#1a1a1a" stroke-width="0.15">x</text>
</svg>
</body></html>
